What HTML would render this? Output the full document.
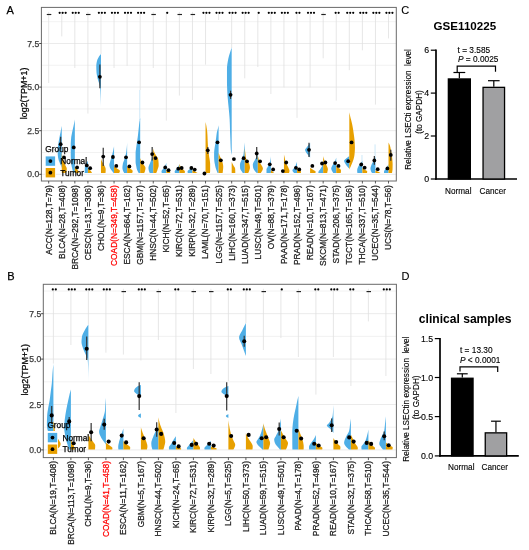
<!DOCTYPE html>
<html><head><meta charset="utf-8"><style>
html,body{margin:0;padding:0;background:#fff;}
body{width:529px;height:550px;overflow:hidden;}
svg{display:block;will-change:transform;filter:blur(0.35px);}
svg text{font-family:"Liberation Sans", sans-serif;}
</style></head><body>
<svg width="529" height="550" viewBox="0 0 529 550" font-family='&quot;Liberation Sans&quot;, sans-serif'>
<rect width="529" height="550" fill="#fff"/>
<rect x="41.40" y="7.40" width="354.90" height="173.60" fill="#fff"/>
<line x1="41.40" y1="152.50" x2="396.30" y2="152.50" stroke="#efefef" stroke-width="0.8"/>
<line x1="41.40" y1="108.90" x2="396.30" y2="108.90" stroke="#efefef" stroke-width="0.8"/>
<line x1="41.40" y1="65.30" x2="396.30" y2="65.30" stroke="#efefef" stroke-width="0.8"/>
<line x1="41.40" y1="21.70" x2="396.30" y2="21.70" stroke="#efefef" stroke-width="0.8"/>
<line x1="41.40" y1="174.30" x2="396.30" y2="174.30" stroke="#e9e9e9" stroke-width="0.9"/>
<line x1="41.40" y1="130.70" x2="396.30" y2="130.70" stroke="#e9e9e9" stroke-width="0.9"/>
<line x1="41.40" y1="87.10" x2="396.30" y2="87.10" stroke="#e9e9e9" stroke-width="0.9"/>
<line x1="41.40" y1="43.50" x2="396.30" y2="43.50" stroke="#e9e9e9" stroke-width="0.9"/>
<line x1="48.70" y1="11.90" x2="48.70" y2="83.00" stroke="#e0e0e0" stroke-width="0.8"/>
<line x1="61.77" y1="11.90" x2="61.77" y2="36.40" stroke="#e0e0e0" stroke-width="0.8"/>
<line x1="74.84" y1="11.90" x2="74.84" y2="68.00" stroke="#e0e0e0" stroke-width="0.8"/>
<line x1="87.91" y1="11.90" x2="87.91" y2="113.50" stroke="#e0e0e0" stroke-width="0.8"/>
<line x1="100.98" y1="11.90" x2="100.98" y2="54.00" stroke="#e0e0e0" stroke-width="0.8"/>
<line x1="114.05" y1="11.90" x2="114.05" y2="68.00" stroke="#e0e0e0" stroke-width="0.8"/>
<line x1="127.12" y1="11.90" x2="127.12" y2="65.80" stroke="#e0e0e0" stroke-width="0.8"/>
<line x1="140.19" y1="11.90" x2="140.19" y2="90.00" stroke="#e0e0e0" stroke-width="0.8"/>
<line x1="153.26" y1="11.90" x2="153.26" y2="68.00" stroke="#e0e0e0" stroke-width="0.8"/>
<line x1="166.33" y1="11.90" x2="166.33" y2="120.60" stroke="#e0e0e0" stroke-width="0.8"/>
<line x1="179.40" y1="11.90" x2="179.40" y2="95.50" stroke="#e0e0e0" stroke-width="0.8"/>
<line x1="192.47" y1="11.90" x2="192.47" y2="100.00" stroke="#e0e0e0" stroke-width="0.8"/>
<line x1="205.54" y1="11.90" x2="205.54" y2="64.70" stroke="#e0e0e0" stroke-width="0.8"/>
<line x1="218.61" y1="11.90" x2="218.61" y2="20.00" stroke="#e0e0e0" stroke-width="0.8"/>
<line x1="231.68" y1="11.90" x2="231.68" y2="48.00" stroke="#e0e0e0" stroke-width="0.8"/>
<line x1="244.75" y1="11.90" x2="244.75" y2="78.30" stroke="#e0e0e0" stroke-width="0.8"/>
<line x1="257.82" y1="11.90" x2="257.82" y2="67.00" stroke="#e0e0e0" stroke-width="0.8"/>
<line x1="270.89" y1="11.90" x2="270.89" y2="94.00" stroke="#e0e0e0" stroke-width="0.8"/>
<line x1="283.96" y1="11.90" x2="283.96" y2="87.40" stroke="#e0e0e0" stroke-width="0.8"/>
<line x1="297.03" y1="11.90" x2="297.03" y2="117.80" stroke="#e0e0e0" stroke-width="0.8"/>
<line x1="310.10" y1="11.90" x2="310.10" y2="87.40" stroke="#e0e0e0" stroke-width="0.8"/>
<line x1="323.17" y1="11.90" x2="323.17" y2="58.30" stroke="#e0e0e0" stroke-width="0.8"/>
<line x1="336.24" y1="11.90" x2="336.24" y2="100.60" stroke="#e0e0e0" stroke-width="0.8"/>
<line x1="349.31" y1="11.90" x2="349.31" y2="70.20" stroke="#e0e0e0" stroke-width="0.8"/>
<line x1="362.38" y1="11.90" x2="362.38" y2="50.30" stroke="#e0e0e0" stroke-width="0.8"/>
<line x1="375.45" y1="11.90" x2="375.45" y2="104.60" stroke="#e0e0e0" stroke-width="0.8"/>
<line x1="388.52" y1="11.90" x2="388.52" y2="38.40" stroke="#e0e0e0" stroke-width="0.8"/>
<line x1="139.79" y1="90.00" x2="139.79" y2="120.00" stroke="#bfe1f5" stroke-width="0.8"/>
<line x1="361.98" y1="155.00" x2="361.98" y2="161.50" stroke="#bfe1f5" stroke-width="0.8"/>
<line x1="375.05" y1="144.40" x2="375.05" y2="157.50" stroke="#bfe1f5" stroke-width="0.8"/>
<path d="M48.70,165.00 L48.70,165.00 L48.52,165.20 L48.35,165.41 L48.18,165.61 L48.01,165.81 L47.85,166.01 L47.69,166.22 L47.53,166.42 L47.38,166.62 L47.24,166.82 L47.10,167.03 L46.97,167.23 L46.85,167.43 L46.73,167.63 L46.63,167.84 L46.53,168.04 L46.44,168.24 L46.36,168.44 L46.29,168.65 L46.24,168.85 L46.19,169.05 L46.15,169.25 L46.11,169.46 L46.07,169.66 L46.03,169.86 L45.99,170.06 L45.95,170.27 L45.92,170.47 L45.89,170.67 L45.86,170.87 L45.83,171.08 L45.80,171.28 L45.78,171.48 L45.76,171.68 L45.74,171.89 L45.73,172.09 L45.72,172.29 L45.71,172.49 L45.70,172.70 L45.70,172.90 L48.70,172.90Z" fill="#4eaee6"/>
<path d="M48.70,168.00 L48.70,168.00 L48.81,168.13 L48.93,168.25 L49.03,168.38 L49.14,168.50 L49.25,168.63 L49.35,168.75 L49.45,168.88 L49.55,169.01 L49.64,169.13 L49.73,169.26 L49.82,169.38 L49.91,169.51 L49.99,169.63 L50.08,169.76 L50.15,169.88 L50.23,170.01 L50.30,170.14 L50.37,170.26 L50.43,170.39 L50.49,170.51 L50.55,170.64 L50.61,170.76 L50.66,170.89 L50.71,171.02 L50.75,171.14 L50.80,171.27 L50.84,171.39 L50.88,171.52 L50.92,171.64 L50.96,171.77 L51.00,171.89 L51.03,172.02 L51.06,172.15 L51.09,172.27 L51.12,172.40 L51.14,172.52 L51.17,172.65 L51.18,172.77 L51.20,172.90 L48.70,172.90Z" fill="#e7a000"/>
<path d="M61.77,125.90 L61.77,125.90 L61.56,126.98 L61.35,128.06 L61.14,129.14 L60.92,130.22 L60.71,131.30 L60.49,132.38 L60.27,133.46 L60.05,134.54 L59.82,135.62 L59.60,136.69 L59.39,137.77 L59.19,138.85 L58.99,139.93 L58.79,141.01 L58.61,142.09 L58.44,143.17 L58.27,144.25 L58.09,145.33 L57.91,146.41 L57.78,147.49 L57.69,148.57 L57.67,149.65 L57.68,150.73 L57.70,151.81 L57.73,152.89 L57.77,153.97 L57.83,155.05 L57.93,156.13 L58.07,157.21 L58.23,158.28 L58.46,159.36 L58.79,160.44 L59.19,161.52 L59.62,162.60 L60.05,163.68 L60.53,164.76 L61.01,165.84 L61.42,166.92 L61.77,168.00 L61.77,168.00Z" fill="#4eaee6"/>
<path d="M61.77,152.80 L61.77,152.80 L61.84,153.32 L61.93,153.83 L62.01,154.35 L62.11,154.86 L62.21,155.38 L62.32,155.89 L62.43,156.41 L62.55,156.92 L62.68,157.44 L62.81,157.95 L62.96,158.47 L63.12,158.98 L63.28,159.50 L63.44,160.02 L63.61,160.53 L63.79,161.05 L63.96,161.56 L64.15,162.08 L64.34,162.59 L64.54,163.11 L64.73,163.62 L64.94,164.14 L65.14,164.65 L65.34,165.17 L65.58,165.68 L65.84,166.20 L66.11,166.72 L66.36,167.23 L66.57,167.75 L66.71,168.26 L66.77,168.78 L66.76,169.29 L66.72,169.81 L66.66,170.32 L66.59,170.84 L66.49,171.35 L66.31,171.87 L66.06,172.38 L65.77,172.90 L61.77,172.90Z" fill="#e7a000"/>
<path d="M74.84,119.60 L74.84,119.60 L74.57,120.97 L74.30,122.33 L74.02,123.70 L73.74,125.07 L73.45,126.43 L73.13,127.80 L72.81,129.17 L72.49,130.53 L72.20,131.90 L71.93,133.27 L71.65,134.63 L71.40,136.00 L71.20,137.37 L71.08,138.73 L70.96,140.10 L70.87,141.47 L70.79,142.83 L70.75,144.20 L70.74,145.57 L70.74,146.93 L70.74,148.30 L70.74,149.67 L70.74,151.03 L70.74,152.40 L70.74,153.77 L70.74,155.13 L70.76,156.50 L70.80,157.87 L70.87,159.23 L70.96,160.60 L71.06,161.97 L71.17,163.33 L71.36,164.70 L71.62,166.07 L71.92,167.43 L72.24,168.80 L72.62,170.17 L72.96,171.53 L73.24,172.90 L74.84,172.90Z" fill="#4eaee6"/>
<path d="M74.84,166.50 L74.84,166.50 L74.98,166.66 L75.11,166.83 L75.24,166.99 L75.38,167.16 L75.51,167.32 L75.64,167.48 L75.78,167.65 L75.91,167.81 L76.04,167.98 L76.17,168.14 L76.30,168.31 L76.43,168.47 L76.56,168.63 L76.68,168.80 L76.81,168.96 L76.94,169.13 L77.08,169.29 L77.22,169.45 L77.36,169.62 L77.50,169.78 L77.64,169.95 L77.78,170.11 L77.91,170.27 L78.03,170.44 L78.14,170.60 L78.23,170.77 L78.31,170.93 L78.38,171.09 L78.44,171.26 L78.50,171.42 L78.56,171.59 L78.61,171.75 L78.67,171.92 L78.71,172.08 L78.75,172.24 L78.79,172.41 L78.81,172.57 L78.83,172.74 L78.84,172.90 L74.84,172.90Z" fill="#e7a000"/>
<path d="M87.91,161.00 L87.91,161.00 L87.65,161.31 L87.40,161.61 L87.16,161.92 L86.93,162.22 L86.72,162.53 L86.52,162.83 L86.33,163.14 L86.13,163.44 L85.93,163.75 L85.73,164.05 L85.54,164.36 L85.36,164.66 L85.21,164.97 L85.08,165.27 L84.98,165.58 L84.92,165.88 L84.90,166.19 L84.88,166.49 L84.86,166.80 L84.85,167.10 L84.83,167.41 L84.82,167.71 L84.81,168.02 L84.79,168.32 L84.78,168.63 L84.77,168.93 L84.76,169.24 L84.75,169.54 L84.75,169.85 L84.74,170.15 L84.73,170.46 L84.73,170.76 L84.72,171.07 L84.72,171.37 L84.72,171.68 L84.71,171.98 L84.71,172.29 L84.71,172.59 L84.71,172.90 L87.91,172.90Z" fill="#4eaee6"/>
<path d="M87.91,168.50 L87.91,168.50 L88.08,168.61 L88.25,168.73 L88.42,168.84 L88.58,168.95 L88.74,169.06 L88.90,169.18 L89.06,169.29 L89.21,169.40 L89.35,169.52 L89.49,169.63 L89.63,169.74 L89.76,169.85 L89.89,169.97 L90.01,170.08 L90.13,170.19 L90.24,170.31 L90.34,170.42 L90.44,170.53 L90.53,170.64 L90.62,170.76 L90.71,170.87 L90.80,170.98 L90.89,171.09 L90.98,171.21 L91.06,171.32 L91.14,171.43 L91.22,171.55 L91.30,171.66 L91.37,171.77 L91.44,171.88 L91.51,172.00 L91.58,172.11 L91.64,172.22 L91.69,172.34 L91.74,172.45 L91.79,172.56 L91.84,172.67 L91.88,172.79 L91.91,172.90 L87.91,172.90Z" fill="#e7a000"/>
<path d="M100.98,53.90 L100.98,53.90 L99.91,55.26 L99.00,56.62 L98.24,57.98 L97.55,59.35 L97.05,60.71 L96.75,62.07 L96.50,63.43 L96.33,64.79 L96.28,66.15 L96.30,67.52 L96.33,68.88 L96.39,70.24 L96.46,71.60 L96.56,72.96 L96.74,74.32 L96.99,75.68 L97.27,77.05 L97.57,78.41 L97.96,79.77 L98.40,81.13 L98.83,82.49 L99.24,83.85 L99.67,85.22 L100.03,86.58 L100.22,87.94 L100.34,89.30 L100.43,90.66 L100.50,92.02 L100.56,93.38 L100.62,94.75 L100.67,96.11 L100.73,97.47 L100.78,98.83 L100.82,100.19 L100.87,101.55 L100.90,102.92 L100.94,104.28 L100.96,105.64 L100.98,107.00 L100.98,107.00Z" fill="#4eaee6"/>
<path d="M100.98,158.00 L100.98,158.00 L101.04,158.38 L101.11,158.76 L101.20,159.15 L101.30,159.53 L101.41,159.91 L101.53,160.29 L101.66,160.67 L101.80,161.06 L101.97,161.44 L102.17,161.82 L102.41,162.20 L102.66,162.58 L102.92,162.97 L103.18,163.35 L103.43,163.73 L103.67,164.11 L103.88,164.49 L104.06,164.88 L104.24,165.26 L104.43,165.64 L104.62,166.02 L104.80,166.41 L104.98,166.79 L105.15,167.17 L105.30,167.55 L105.43,167.93 L105.54,168.32 L105.62,168.70 L105.67,169.08 L105.68,169.46 L105.68,169.84 L105.68,170.23 L105.67,170.61 L105.66,170.99 L105.64,171.37 L105.62,171.75 L105.58,172.14 L105.54,172.52 L105.48,172.90 L100.98,172.90Z" fill="#e7a000"/>
<path d="M114.05,146.30 L114.05,146.30 L113.92,146.98 L113.79,147.66 L113.65,148.35 L113.51,149.03 L113.37,149.71 L113.22,150.39 L113.06,151.07 L112.91,151.76 L112.75,152.44 L112.58,153.12 L112.41,153.80 L112.23,154.48 L112.05,155.17 L111.87,155.85 L111.68,156.53 L111.49,157.21 L111.29,157.89 L111.08,158.58 L110.86,159.26 L110.65,159.94 L110.44,160.62 L110.24,161.31 L110.05,161.99 L109.86,162.67 L109.65,163.35 L109.47,164.03 L109.36,164.72 L109.37,165.40 L109.47,166.08 L109.64,166.76 L109.86,167.44 L110.10,168.13 L110.44,168.81 L110.90,169.49 L111.42,170.17 L111.94,170.85 L112.45,171.54 L112.99,172.22 L113.55,172.90 L114.05,172.90Z" fill="#4eaee6"/>
<path d="M114.05,166.50 L114.05,166.50 L114.32,166.66 L114.59,166.83 L114.85,166.99 L115.11,167.16 L115.36,167.32 L115.61,167.48 L115.86,167.65 L116.10,167.81 L116.33,167.98 L116.56,168.14 L116.79,168.31 L117.01,168.47 L117.23,168.63 L117.47,168.80 L117.72,168.96 L117.97,169.13 L118.23,169.29 L118.48,169.45 L118.73,169.62 L118.96,169.78 L119.18,169.95 L119.37,170.11 L119.54,170.27 L119.67,170.44 L119.77,170.60 L119.83,170.77 L119.85,170.93 L119.85,171.09 L119.84,171.26 L119.83,171.42 L119.80,171.59 L119.77,171.75 L119.72,171.92 L119.66,172.08 L119.58,172.24 L119.48,172.41 L119.36,172.57 L119.22,172.74 L119.05,172.90 L114.05,172.90Z" fill="#e7a000"/>
<path d="M127.12,141.80 L127.12,141.80 L127.11,142.60 L127.08,143.39 L127.04,144.19 L126.99,144.99 L126.93,145.79 L126.87,146.58 L126.79,147.38 L126.71,148.18 L126.63,148.98 L126.54,149.77 L126.45,150.57 L126.34,151.37 L126.20,152.17 L126.05,152.96 L125.89,153.76 L125.72,154.56 L125.54,155.36 L125.33,156.15 L125.09,156.95 L124.85,157.75 L124.59,158.55 L124.33,159.34 L124.08,160.14 L123.79,160.94 L123.49,161.74 L123.20,162.53 L122.96,163.33 L122.80,164.13 L122.68,164.93 L122.57,165.72 L122.48,166.52 L122.43,167.32 L122.43,168.12 L122.53,168.91 L122.72,169.71 L122.96,170.51 L123.23,171.31 L123.63,172.10 L124.12,172.90 L127.12,172.90Z" fill="#4eaee6"/>
<path d="M127.12,166.50 L127.12,166.50 L127.40,166.66 L127.68,166.83 L127.95,166.99 L128.21,167.16 L128.47,167.32 L128.72,167.48 L128.97,167.65 L129.21,167.81 L129.44,167.98 L129.66,168.14 L129.88,168.31 L130.08,168.47 L130.29,168.63 L130.50,168.80 L130.72,168.96 L130.94,169.13 L131.16,169.29 L131.38,169.45 L131.59,169.62 L131.79,169.78 L131.97,169.95 L132.14,170.11 L132.29,170.27 L132.42,170.44 L132.51,170.60 L132.58,170.77 L132.62,170.93 L132.62,171.09 L132.62,171.26 L132.61,171.42 L132.61,171.59 L132.59,171.75 L132.56,171.92 L132.53,172.08 L132.48,172.24 L132.42,172.41 L132.34,172.57 L132.24,172.74 L132.12,172.90 L127.12,172.90Z" fill="#e7a000"/>
<path d="M140.19,118.00 L140.19,118.00 L139.87,119.41 L139.59,120.82 L139.36,122.22 L139.18,123.63 L139.03,125.04 L138.90,126.45 L138.76,127.85 L138.61,129.26 L138.46,130.67 L138.32,132.08 L138.16,133.48 L138.00,134.89 L137.83,136.30 L137.64,137.71 L137.44,139.12 L137.24,140.52 L137.04,141.93 L136.82,143.34 L136.61,144.75 L136.40,146.15 L136.21,147.56 L136.01,148.97 L135.80,150.38 L135.65,151.78 L135.59,153.19 L135.59,154.60 L135.59,156.01 L135.59,157.42 L135.59,158.82 L135.59,160.23 L135.59,161.64 L135.66,163.05 L135.89,164.45 L136.17,165.86 L136.42,167.27 L136.72,168.68 L137.16,170.08 L137.84,171.49 L138.69,172.90 L140.19,172.90Z" fill="#4eaee6"/>
<path d="M140.19,158.10 L140.19,158.10 L140.32,158.48 L140.46,158.86 L140.60,159.24 L140.76,159.62 L140.92,160.00 L141.09,160.38 L141.27,160.76 L141.46,161.14 L141.66,161.52 L141.88,161.89 L142.11,162.27 L142.35,162.65 L142.59,163.03 L142.83,163.41 L143.07,163.79 L143.29,164.17 L143.55,164.55 L143.83,164.93 L144.12,165.31 L144.41,165.69 L144.68,166.07 L144.94,166.45 L145.16,166.83 L145.33,167.21 L145.44,167.59 L145.49,167.97 L145.48,168.35 L145.45,168.73 L145.40,169.11 L145.34,169.48 L145.26,169.86 L145.17,170.24 L145.08,170.62 L144.99,171.00 L144.88,171.38 L144.74,171.76 L144.57,172.14 L144.38,172.52 L144.19,172.90 L140.19,172.90Z" fill="#e7a000"/>
<path d="M153.26,155.70 L153.26,155.70 L153.03,156.14 L152.81,156.58 L152.59,157.02 L152.37,157.46 L152.16,157.91 L151.95,158.35 L151.75,158.79 L151.56,159.23 L151.37,159.67 L151.18,160.11 L151.00,160.55 L150.82,160.99 L150.65,161.43 L150.48,161.87 L150.31,162.32 L150.15,162.76 L149.99,163.20 L149.81,163.64 L149.63,164.08 L149.44,164.52 L149.26,164.96 L149.08,165.40 L148.91,165.84 L148.76,166.28 L148.63,166.73 L148.54,167.17 L148.48,167.61 L148.46,168.05 L148.48,168.49 L148.53,168.93 L148.59,169.37 L148.68,169.81 L148.78,170.25 L148.88,170.69 L149.00,171.14 L149.14,171.58 L149.33,172.02 L149.53,172.46 L149.76,172.90 L153.26,172.90Z" fill="#4eaee6"/>
<path d="M153.26,148.30 L153.26,148.30 L153.37,148.93 L153.51,149.56 L153.67,150.19 L153.86,150.82 L154.07,151.45 L154.29,152.08 L154.55,152.72 L154.86,153.35 L155.20,153.98 L155.55,154.61 L155.89,155.24 L156.29,155.87 L156.74,156.50 L157.19,157.13 L157.60,157.76 L157.95,158.39 L158.19,159.02 L158.29,159.65 L158.36,160.28 L158.42,160.92 L158.48,161.55 L158.53,162.18 L158.57,162.81 L158.61,163.44 L158.63,164.07 L158.65,164.70 L158.66,165.33 L158.64,165.96 L158.54,166.59 L158.37,167.22 L158.16,167.85 L157.93,168.48 L157.72,169.12 L157.52,169.75 L157.29,170.38 L157.05,171.01 L156.80,171.64 L156.54,172.27 L156.26,172.90 L153.26,172.90Z" fill="#e7a000"/>
<path d="M166.33,162.70 L166.33,162.70 L166.26,162.96 L166.18,163.22 L166.10,163.48 L166.02,163.75 L165.92,164.01 L165.83,164.27 L165.72,164.53 L165.62,164.79 L165.51,165.05 L165.39,165.32 L165.26,165.58 L165.12,165.84 L164.98,166.10 L164.83,166.36 L164.68,166.62 L164.52,166.88 L164.36,167.15 L164.20,167.41 L164.03,167.67 L163.87,167.93 L163.70,168.19 L163.51,168.45 L163.29,168.72 L163.06,168.98 L162.83,169.24 L162.59,169.50 L162.37,169.76 L162.15,170.02 L161.96,170.28 L161.79,170.55 L161.66,170.81 L161.57,171.07 L161.53,171.33 L161.53,171.59 L161.55,171.85 L161.59,172.12 L161.64,172.38 L161.72,172.64 L161.83,172.90 L166.33,172.90Z" fill="#4eaee6"/>
<path d="M166.33,169.50 L166.33,169.50 L166.49,169.59 L166.65,169.67 L166.81,169.76 L166.96,169.85 L167.12,169.94 L167.27,170.02 L167.41,170.11 L167.56,170.20 L167.70,170.28 L167.83,170.37 L167.97,170.46 L168.10,170.55 L168.23,170.63 L168.35,170.72 L168.48,170.81 L168.60,170.89 L168.71,170.98 L168.82,171.07 L168.93,171.16 L169.04,171.24 L169.14,171.33 L169.24,171.42 L169.34,171.51 L169.43,171.59 L169.52,171.68 L169.61,171.77 L169.69,171.85 L169.78,171.94 L169.86,172.03 L169.94,172.12 L170.02,172.20 L170.09,172.29 L170.16,172.38 L170.23,172.46 L170.30,172.55 L170.36,172.64 L170.42,172.73 L170.48,172.81 L170.53,172.90 L166.33,172.90Z" fill="#e7a000"/>
<path d="M179.40,164.20 L179.40,164.20 L179.32,164.42 L179.23,164.65 L179.14,164.87 L179.05,165.09 L178.94,165.32 L178.84,165.54 L178.72,165.76 L178.61,165.98 L178.49,166.21 L178.35,166.43 L178.21,166.65 L178.07,166.88 L177.91,167.10 L177.76,167.32 L177.60,167.55 L177.43,167.77 L177.27,167.99 L177.11,168.22 L176.94,168.44 L176.78,168.66 L176.59,168.88 L176.38,169.11 L176.16,169.33 L175.93,169.55 L175.71,169.78 L175.49,170.00 L175.29,170.22 L175.11,170.45 L174.95,170.67 L174.83,170.89 L174.74,171.12 L174.70,171.34 L174.70,171.56 L174.70,171.78 L174.71,172.01 L174.73,172.23 L174.77,172.45 L174.82,172.68 L174.90,172.90 L179.40,172.90Z" fill="#4eaee6"/>
<path d="M179.40,163.40 L179.40,163.40 L179.43,163.64 L179.48,163.89 L179.54,164.13 L179.60,164.37 L179.67,164.62 L179.75,164.86 L179.84,165.11 L179.93,165.35 L180.03,165.59 L180.13,165.84 L180.23,166.08 L180.35,166.32 L180.49,166.57 L180.63,166.81 L180.79,167.05 L180.96,167.30 L181.14,167.54 L181.33,167.78 L181.52,168.03 L181.71,168.27 L181.91,168.52 L182.14,168.76 L182.42,169.00 L182.73,169.25 L183.06,169.49 L183.40,169.73 L183.73,169.98 L184.05,170.22 L184.33,170.46 L184.57,170.71 L184.75,170.95 L184.87,171.19 L184.90,171.44 L184.90,171.68 L184.89,171.93 L184.87,172.17 L184.84,172.41 L184.78,172.66 L184.70,172.90 L179.40,172.90Z" fill="#e7a000"/>
<path d="M192.47,166.50 L192.47,166.50 L192.33,166.66 L192.19,166.83 L192.05,166.99 L191.91,167.16 L191.77,167.32 L191.62,167.48 L191.47,167.65 L191.32,167.81 L191.17,167.98 L191.01,168.14 L190.86,168.31 L190.70,168.47 L190.53,168.63 L190.35,168.80 L190.14,168.96 L189.93,169.13 L189.70,169.29 L189.47,169.45 L189.23,169.62 L189.00,169.78 L188.77,169.95 L188.55,170.11 L188.35,170.27 L188.16,170.44 L187.99,170.60 L187.84,170.77 L187.73,170.93 L187.64,171.09 L187.58,171.26 L187.57,171.42 L187.57,171.59 L187.57,171.75 L187.58,171.92 L187.59,172.08 L187.61,172.24 L187.63,172.41 L187.67,172.57 L187.71,172.74 L187.77,172.90 L192.47,172.90Z" fill="#4eaee6"/>
<path d="M192.47,170.20 L192.47,170.20 L192.61,170.27 L192.75,170.34 L192.89,170.41 L193.02,170.48 L193.16,170.55 L193.30,170.62 L193.43,170.68 L193.57,170.75 L193.70,170.82 L193.84,170.89 L193.97,170.96 L194.10,171.03 L194.23,171.10 L194.36,171.17 L194.49,171.24 L194.62,171.31 L194.75,171.38 L194.87,171.45 L195.00,171.52 L195.12,171.58 L195.25,171.65 L195.37,171.72 L195.49,171.79 L195.62,171.86 L195.74,171.93 L195.86,172.00 L195.98,172.07 L196.10,172.14 L196.22,172.21 L196.34,172.28 L196.46,172.35 L196.57,172.42 L196.69,172.48 L196.80,172.55 L196.92,172.62 L197.03,172.69 L197.15,172.76 L197.26,172.83 L197.37,172.90 L192.47,172.90Z" fill="#e7a000"/>
<path d="M205.54,172.00 L205.54,172.00 L205.51,172.02 L205.49,172.05 L205.47,172.07 L205.44,172.09 L205.42,172.12 L205.40,172.14 L205.37,172.16 L205.35,172.18 L205.33,172.21 L205.31,172.23 L205.29,172.25 L205.27,172.28 L205.25,172.30 L205.24,172.32 L205.22,172.35 L205.21,172.37 L205.19,172.39 L205.18,172.42 L205.17,172.44 L205.16,172.46 L205.15,172.48 L205.14,172.51 L205.13,172.53 L205.12,172.55 L205.11,172.58 L205.10,172.60 L205.10,172.62 L205.09,172.65 L205.08,172.67 L205.07,172.69 L205.07,172.72 L205.06,172.74 L205.06,172.76 L205.05,172.78 L205.05,172.81 L205.04,172.83 L205.04,172.85 L205.04,172.88 L205.04,172.90 L205.54,172.90Z" fill="#4eaee6"/>
<path d="M205.54,121.90 L205.54,121.90 L205.83,123.21 L206.10,124.52 L206.34,125.82 L206.56,127.13 L206.77,128.44 L206.96,129.75 L207.13,131.05 L207.25,132.36 L207.34,133.67 L207.42,134.98 L207.49,136.28 L207.54,137.59 L207.60,138.90 L207.65,140.21 L207.71,141.52 L207.78,142.82 L207.87,144.13 L207.97,145.44 L208.08,146.75 L208.20,148.05 L208.32,149.36 L208.46,150.67 L208.60,151.98 L208.74,153.28 L208.88,154.59 L209.04,155.90 L209.24,157.21 L209.46,158.52 L209.69,159.82 L209.89,161.13 L210.05,162.44 L210.13,163.75 L210.14,165.05 L210.14,166.36 L210.14,167.67 L210.14,168.98 L210.14,170.28 L210.12,171.59 L209.94,172.90 L205.54,172.90Z" fill="#e7a000"/>
<path d="M218.61,125.30 L218.61,125.30 L218.35,126.52 L218.07,127.74 L217.76,128.96 L217.41,130.18 L217.08,131.40 L216.84,132.62 L216.65,133.84 L216.48,135.06 L216.33,136.28 L216.18,137.51 L216.01,138.73 L215.84,139.95 L215.67,141.17 L215.50,142.39 L215.32,143.61 L215.13,144.83 L214.91,146.05 L214.71,147.27 L214.55,148.49 L214.37,149.71 L214.22,150.93 L214.13,152.15 L214.11,153.37 L214.11,154.59 L214.11,155.81 L214.11,157.03 L214.14,158.25 L214.21,159.47 L214.30,160.69 L214.44,161.92 L214.65,163.14 L214.87,164.36 L215.11,165.58 L215.38,166.80 L215.70,168.02 L216.12,169.24 L216.59,170.46 L217.08,171.68 L217.61,172.90 L218.61,172.90Z" fill="#4eaee6"/>
<path d="M218.61,152.80 L218.61,152.80 L218.79,153.32 L218.97,153.83 L219.16,154.35 L219.36,154.86 L219.56,155.38 L219.77,155.89 L219.99,156.41 L220.23,156.92 L220.49,157.44 L220.75,157.95 L221.02,158.47 L221.28,158.98 L221.52,159.50 L221.74,160.02 L221.93,160.53 L222.08,161.05 L222.23,161.56 L222.38,162.08 L222.53,162.59 L222.67,163.11 L222.80,163.62 L222.92,164.14 L223.02,164.65 L223.10,165.17 L223.16,165.68 L223.20,166.20 L223.21,166.72 L223.20,167.23 L223.18,167.75 L223.15,168.26 L223.11,168.78 L223.07,169.29 L223.03,169.81 L222.98,170.32 L222.92,170.84 L222.86,171.35 L222.78,171.87 L222.70,172.38 L222.61,172.90 L218.61,172.90Z" fill="#e7a000"/>
<path d="M231.68,47.40 L231.68,47.40 L230.77,50.16 L229.89,52.92 L229.03,55.68 L228.35,58.45 L227.81,61.21 L227.37,63.97 L227.03,66.73 L226.98,69.49 L226.98,72.25 L226.98,75.02 L226.98,77.78 L226.98,80.54 L226.99,83.30 L227.05,86.06 L227.16,88.82 L227.29,91.58 L227.44,94.35 L227.62,97.11 L227.87,99.87 L228.14,102.63 L228.42,105.39 L228.70,108.15 L228.98,110.92 L229.22,113.68 L229.45,116.44 L229.64,119.20 L229.76,121.96 L229.86,124.72 L229.94,127.48 L230.02,130.25 L230.12,133.01 L230.23,135.77 L230.34,138.53 L230.45,141.29 L230.55,144.05 L230.65,146.82 L230.79,149.58 L231.14,152.34 L231.68,155.10 L231.68,155.10Z" fill="#4eaee6"/>
<path d="M231.68,162.00 L231.68,162.00 L231.82,162.28 L231.96,162.56 L232.10,162.84 L232.24,163.12 L232.38,163.40 L232.52,163.68 L232.66,163.96 L232.80,164.24 L232.94,164.52 L233.08,164.79 L233.22,165.07 L233.37,165.35 L233.53,165.63 L233.71,165.91 L233.89,166.19 L234.07,166.47 L234.25,166.75 L234.42,167.03 L234.59,167.31 L234.74,167.59 L234.88,167.87 L234.99,168.15 L235.08,168.43 L235.15,168.71 L235.18,168.99 L235.19,169.27 L235.20,169.55 L235.22,169.83 L235.23,170.11 L235.24,170.38 L235.25,170.66 L235.25,170.94 L235.26,171.22 L235.27,171.50 L235.27,171.78 L235.27,172.06 L235.28,172.34 L235.28,172.62 L235.28,172.90 L231.68,172.90Z" fill="#e7a000"/>
<path d="M244.75,142.40 L244.75,142.40 L244.67,143.18 L244.58,143.96 L244.50,144.75 L244.42,145.53 L244.33,146.31 L244.25,147.09 L244.16,147.87 L244.08,148.66 L244.01,149.44 L243.95,150.22 L243.88,151.00 L243.81,151.78 L243.73,152.57 L243.63,153.35 L243.51,154.13 L243.35,154.91 L243.08,155.69 L242.75,156.48 L242.46,157.26 L242.16,158.04 L241.87,158.82 L241.59,159.61 L241.31,160.39 L240.99,161.17 L240.66,161.95 L240.35,162.73 L240.11,163.52 L239.97,164.30 L239.95,165.08 L239.97,165.86 L240.00,166.64 L240.05,167.43 L240.11,168.21 L240.24,168.99 L240.63,169.77 L241.16,170.55 L241.66,171.34 L242.18,172.12 L242.75,172.90 L244.75,172.90Z" fill="#4eaee6"/>
<path d="M244.75,148.30 L244.75,148.30 L244.83,148.93 L244.91,149.56 L244.99,150.19 L245.07,150.82 L245.15,151.45 L245.23,152.08 L245.31,152.72 L245.39,153.35 L245.46,153.98 L245.52,154.61 L245.59,155.24 L245.65,155.87 L245.72,156.50 L245.81,157.13 L245.92,157.76 L246.05,158.39 L246.28,159.02 L246.65,159.65 L247.09,160.28 L247.50,160.92 L247.89,161.55 L248.32,162.18 L248.74,162.81 L249.08,163.44 L249.30,164.07 L249.47,164.70 L249.63,165.33 L249.76,165.96 L249.86,166.59 L249.93,167.22 L249.95,167.85 L249.88,168.48 L249.72,169.12 L249.51,169.75 L249.29,170.38 L249.07,171.01 L248.83,171.64 L248.55,172.27 L248.25,172.90 L244.75,172.90Z" fill="#e7a000"/>
<path d="M257.82,154.50 L257.82,154.50 L257.58,154.97 L257.34,155.44 L257.10,155.92 L256.85,156.39 L256.60,156.86 L256.34,157.33 L256.06,157.80 L255.78,158.27 L255.51,158.75 L255.23,159.22 L254.98,159.69 L254.74,160.16 L254.49,160.63 L254.22,161.11 L253.95,161.58 L253.69,162.05 L253.45,162.52 L253.23,162.99 L253.04,163.46 L252.91,163.94 L252.83,164.41 L252.82,164.88 L252.84,165.35 L252.88,165.82 L252.93,166.29 L252.99,166.77 L253.06,167.24 L253.17,167.71 L253.32,168.18 L253.50,168.65 L253.70,169.13 L253.92,169.60 L254.20,170.07 L254.53,170.54 L254.91,171.01 L255.31,171.48 L255.75,171.96 L256.26,172.43 L256.82,172.90 L257.82,172.90Z" fill="#4eaee6"/>
<path d="M257.82,155.30 L257.82,155.30 L257.91,155.75 L258.01,156.20 L258.10,156.65 L258.21,157.11 L258.31,157.56 L258.42,158.01 L258.53,158.46 L258.64,158.91 L258.75,159.36 L258.87,159.81 L258.99,160.26 L259.13,160.72 L259.27,161.17 L259.43,161.62 L259.61,162.07 L259.82,162.52 L260.05,162.97 L260.30,163.42 L260.55,163.87 L260.82,164.33 L261.13,164.78 L261.46,165.23 L261.77,165.68 L262.04,166.13 L262.25,166.58 L262.47,167.03 L262.66,167.48 L262.82,167.94 L262.91,168.39 L262.91,168.84 L262.81,169.29 L262.64,169.74 L262.43,170.19 L262.20,170.64 L261.97,171.09 L261.73,171.55 L261.45,172.00 L261.15,172.45 L260.82,172.90 L257.82,172.90Z" fill="#e7a000"/>
<path d="M270.89,156.10 L270.89,156.10 L270.87,156.53 L270.83,156.96 L270.79,157.39 L270.74,157.82 L270.68,158.25 L270.61,158.68 L270.54,159.12 L270.47,159.55 L270.39,159.98 L270.31,160.41 L270.21,160.84 L270.10,161.27 L269.98,161.70 L269.84,162.13 L269.70,162.56 L269.55,162.99 L269.39,163.42 L269.23,163.85 L269.06,164.28 L268.88,164.72 L268.69,165.15 L268.47,165.58 L268.23,166.01 L267.99,166.44 L267.76,166.87 L267.52,167.30 L267.24,167.73 L266.96,168.16 L266.71,168.59 L266.54,169.02 L266.49,169.45 L266.49,169.88 L266.49,170.32 L266.49,170.75 L266.49,171.18 L266.49,171.61 L266.49,172.04 L266.49,172.47 L266.49,172.90 L270.89,172.90Z" fill="#4eaee6"/>
<path d="M270.89,170.50 L270.89,170.50 L271.00,170.56 L271.12,170.62 L271.23,170.68 L271.34,170.75 L271.45,170.81 L271.55,170.87 L271.66,170.93 L271.76,170.99 L271.86,171.05 L271.96,171.12 L272.05,171.18 L272.15,171.24 L272.24,171.30 L272.33,171.36 L272.41,171.42 L272.50,171.48 L272.58,171.55 L272.66,171.61 L272.74,171.67 L272.81,171.73 L272.88,171.79 L272.95,171.85 L273.02,171.92 L273.09,171.98 L273.15,172.04 L273.22,172.10 L273.28,172.16 L273.34,172.22 L273.40,172.28 L273.46,172.35 L273.51,172.41 L273.57,172.47 L273.62,172.53 L273.67,172.59 L273.72,172.65 L273.76,172.72 L273.81,172.78 L273.85,172.84 L273.89,172.90 L270.89,172.90Z" fill="#e7a000"/>
<path d="M283.96,171.00 L283.96,171.00 L283.92,171.05 L283.88,171.10 L283.85,171.15 L283.81,171.19 L283.77,171.24 L283.74,171.29 L283.70,171.34 L283.67,171.39 L283.64,171.44 L283.61,171.49 L283.58,171.54 L283.55,171.58 L283.52,171.63 L283.50,171.68 L283.47,171.73 L283.45,171.78 L283.43,171.83 L283.40,171.88 L283.39,171.93 L283.37,171.97 L283.35,172.02 L283.34,172.07 L283.32,172.12 L283.31,172.17 L283.29,172.22 L283.28,172.27 L283.26,172.32 L283.25,172.36 L283.24,172.41 L283.23,172.46 L283.21,172.51 L283.20,172.56 L283.19,172.61 L283.19,172.66 L283.18,172.71 L283.17,172.75 L283.17,172.80 L283.16,172.85 L283.16,172.90 L283.96,172.90Z" fill="#4eaee6"/>
<path d="M283.96,154.50 L283.96,154.50 L284.07,154.97 L284.18,155.44 L284.29,155.92 L284.40,156.39 L284.51,156.86 L284.61,157.33 L284.72,157.80 L284.82,158.27 L284.91,158.75 L285.00,159.22 L285.08,159.69 L285.17,160.16 L285.26,160.63 L285.36,161.11 L285.46,161.58 L285.59,162.05 L285.73,162.52 L285.92,162.99 L286.15,163.46 L286.39,163.94 L286.65,164.41 L286.90,164.88 L287.15,165.35 L287.41,165.82 L287.69,166.29 L287.95,166.77 L288.20,167.24 L288.42,167.71 L288.62,168.18 L288.83,168.65 L289.03,169.13 L289.21,169.60 L289.35,170.07 L289.44,170.54 L289.46,171.01 L289.41,171.48 L289.31,171.96 L289.16,172.43 L288.96,172.90 L283.96,172.90Z" fill="#e7a000"/>
<path d="M297.03,161.60 L297.03,161.60 L296.95,161.89 L296.86,162.18 L296.78,162.47 L296.68,162.76 L296.58,163.05 L296.48,163.34 L296.37,163.63 L296.26,163.92 L296.15,164.21 L296.03,164.50 L295.90,164.79 L295.78,165.08 L295.64,165.37 L295.51,165.66 L295.37,165.95 L295.22,166.24 L295.07,166.53 L294.91,166.82 L294.75,167.11 L294.58,167.39 L294.40,167.68 L294.21,167.97 L293.96,168.26 L293.66,168.55 L293.36,168.84 L293.06,169.13 L292.79,169.42 L292.58,169.71 L292.46,170.00 L292.43,170.29 L292.48,170.58 L292.57,170.87 L292.69,171.16 L292.84,171.45 L293.00,171.74 L293.18,172.03 L293.42,172.32 L293.71,172.61 L294.03,172.90 L297.03,172.90Z" fill="#4eaee6"/>
<path d="M297.03,167.80 L297.03,167.80 L297.13,167.93 L297.23,168.06 L297.33,168.19 L297.44,168.32 L297.55,168.45 L297.66,168.58 L297.78,168.72 L297.90,168.85 L298.02,168.98 L298.14,169.11 L298.27,169.24 L298.40,169.37 L298.53,169.50 L298.68,169.63 L298.84,169.76 L299.03,169.89 L299.23,170.02 L299.43,170.15 L299.64,170.28 L299.85,170.42 L300.05,170.55 L300.25,170.68 L300.43,170.81 L300.58,170.94 L300.72,171.07 L300.82,171.20 L300.89,171.33 L300.93,171.46 L300.93,171.59 L300.93,171.72 L300.93,171.85 L300.93,171.98 L300.93,172.12 L300.93,172.25 L300.93,172.38 L300.93,172.51 L300.93,172.64 L300.93,172.77 L300.93,172.90 L297.03,172.90Z" fill="#e7a000"/>
<path d="M310.10,142.80 L310.10,142.80 L309.86,143.18 L309.61,143.56 L309.35,143.95 L309.08,144.33 L308.81,144.71 L308.53,145.09 L308.23,145.47 L307.92,145.86 L307.60,146.24 L307.29,146.62 L306.98,147.00 L306.68,147.38 L306.39,147.77 L306.07,148.15 L305.74,148.53 L305.45,148.91 L305.22,149.29 L305.11,149.68 L305.11,150.06 L305.18,150.44 L305.30,150.82 L305.45,151.21 L305.63,151.59 L305.82,151.97 L306.02,152.35 L306.23,152.73 L306.49,153.12 L306.80,153.50 L307.13,153.88 L307.48,154.26 L307.81,154.64 L308.12,155.03 L308.41,155.41 L308.70,155.79 L308.99,156.17 L309.27,156.55 L309.55,156.94 L309.83,157.32 L310.10,157.70 L310.10,157.70Z" fill="#4eaee6"/>
<path d="M310.10,167.80 L310.10,167.80 L310.30,167.93 L310.50,168.06 L310.69,168.19 L310.89,168.32 L311.08,168.45 L311.27,168.58 L311.47,168.72 L311.66,168.85 L311.85,168.98 L312.04,169.11 L312.23,169.24 L312.41,169.37 L312.60,169.50 L312.79,169.63 L313.00,169.76 L313.23,169.89 L313.46,170.02 L313.70,170.15 L313.93,170.28 L314.17,170.42 L314.40,170.55 L314.62,170.68 L314.82,170.81 L315.01,170.94 L315.18,171.07 L315.33,171.20 L315.45,171.33 L315.53,171.46 L315.59,171.59 L315.60,171.72 L315.60,171.85 L315.60,171.98 L315.59,172.12 L315.58,172.25 L315.56,172.38 L315.54,172.51 L315.50,172.64 L315.46,172.77 L315.40,172.90 L310.10,172.90Z" fill="#e7a000"/>
<path d="M323.17,163.90 L323.17,163.90 L323.07,164.13 L322.97,164.36 L322.86,164.59 L322.76,164.82 L322.65,165.05 L322.53,165.28 L322.42,165.52 L322.30,165.75 L322.18,165.98 L322.06,166.21 L321.93,166.44 L321.80,166.67 L321.66,166.90 L321.52,167.13 L321.38,167.36 L321.24,167.59 L321.10,167.82 L320.95,168.05 L320.81,168.28 L320.67,168.52 L320.52,168.75 L320.38,168.98 L320.24,169.21 L320.07,169.44 L319.90,169.67 L319.72,169.90 L319.53,170.13 L319.35,170.36 L319.17,170.59 L318.99,170.82 L318.83,171.05 L318.69,171.28 L318.57,171.52 L318.47,171.75 L318.41,171.98 L318.37,172.21 L318.37,172.44 L318.37,172.67 L318.37,172.90 L323.17,172.90Z" fill="#4eaee6"/>
<path d="M323.17,156.10 L323.17,156.10 L323.27,156.53 L323.37,156.96 L323.49,157.39 L323.61,157.82 L323.73,158.25 L323.87,158.68 L324.01,159.12 L324.16,159.55 L324.33,159.98 L324.50,160.41 L324.68,160.84 L324.87,161.27 L325.05,161.70 L325.22,162.13 L325.40,162.56 L325.58,162.99 L325.76,163.42 L325.94,163.85 L326.11,164.28 L326.28,164.72 L326.45,165.15 L326.63,165.58 L326.83,166.01 L327.02,166.44 L327.21,166.87 L327.39,167.30 L327.55,167.73 L327.69,168.16 L327.79,168.59 L327.85,169.02 L327.87,169.45 L327.83,169.88 L327.75,170.32 L327.65,170.75 L327.54,171.18 L327.45,171.61 L327.36,172.04 L327.27,172.47 L327.17,172.90 L323.17,172.90Z" fill="#e7a000"/>
<path d="M336.24,157.70 L336.24,157.70 L336.12,158.09 L336.00,158.48 L335.87,158.87 L335.73,159.26 L335.58,159.65 L335.42,160.04 L335.26,160.43 L335.09,160.82 L334.91,161.21 L334.71,161.60 L334.51,161.99 L334.31,162.38 L334.08,162.77 L333.83,163.16 L333.57,163.55 L333.30,163.94 L333.05,164.33 L332.83,164.72 L332.63,165.11 L332.41,165.49 L332.19,165.88 L331.98,166.27 L331.78,166.66 L331.61,167.05 L331.46,167.44 L331.34,167.83 L331.27,168.22 L331.24,168.61 L331.28,169.00 L331.37,169.39 L331.50,169.78 L331.66,170.17 L331.84,170.56 L332.02,170.95 L332.21,171.34 L332.43,171.73 L332.68,172.12 L332.95,172.51 L333.24,172.90 L336.24,172.90Z" fill="#4eaee6"/>
<path d="M336.24,165.50 L336.24,165.50 L336.40,165.69 L336.56,165.88 L336.72,166.07 L336.89,166.26 L337.06,166.45 L337.23,166.64 L337.40,166.83 L337.58,167.02 L337.76,167.21 L337.94,167.40 L338.13,167.59 L338.34,167.78 L338.58,167.97 L338.84,168.16 L339.10,168.35 L339.38,168.54 L339.65,168.73 L339.91,168.92 L340.15,169.11 L340.38,169.29 L340.57,169.48 L340.73,169.67 L340.85,169.86 L340.92,170.05 L340.94,170.24 L340.94,170.43 L340.94,170.62 L340.94,170.81 L340.93,171.00 L340.93,171.19 L340.92,171.38 L340.91,171.57 L340.90,171.76 L340.89,171.95 L340.87,172.14 L340.84,172.33 L340.81,172.52 L340.78,172.71 L340.74,172.90 L336.24,172.90Z" fill="#e7a000"/>
<path d="M349.31,156.10 L349.31,156.10 L348.85,156.42 L348.40,156.74 L347.97,157.06 L347.55,157.38 L347.16,157.70 L346.78,158.02 L346.40,158.34 L345.99,158.66 L345.58,158.98 L345.18,159.31 L344.82,159.63 L344.51,159.95 L344.27,160.27 L344.14,160.59 L344.11,160.91 L344.15,161.23 L344.23,161.55 L344.34,161.87 L344.49,162.19 L344.65,162.51 L344.83,162.83 L345.01,163.15 L345.21,163.47 L345.39,163.79 L345.57,164.11 L345.77,164.43 L345.97,164.75 L346.20,165.07 L346.43,165.39 L346.68,165.72 L346.93,166.04 L347.19,166.36 L347.46,166.68 L347.74,167.00 L348.03,167.32 L348.33,167.64 L348.65,167.96 L348.97,168.28 L349.31,168.60 L349.31,168.60Z" fill="#4eaee6"/>
<path d="M349.31,112.30 L349.31,112.30 L349.64,113.76 L349.97,115.23 L350.30,116.69 L350.65,118.16 L351.01,119.62 L351.39,121.08 L351.76,122.55 L352.10,124.01 L352.40,125.48 L352.67,126.94 L352.92,128.41 L353.15,129.87 L353.37,131.33 L353.58,132.80 L353.80,134.26 L354.01,135.73 L354.21,137.19 L354.39,138.65 L354.52,140.12 L354.62,141.58 L354.72,143.05 L354.81,144.51 L354.87,145.97 L354.91,147.44 L354.90,148.90 L354.84,150.37 L354.75,151.83 L354.62,153.29 L354.48,154.76 L354.26,156.22 L353.93,157.69 L353.55,159.15 L353.12,160.62 L352.57,162.08 L351.95,163.54 L351.31,165.01 L350.67,166.47 L350.00,167.94 L349.31,169.40 L349.31,169.40Z" fill="#e7a000"/>
<path d="M362.38,160.80 L362.38,160.80 L362.18,161.11 L361.97,161.42 L361.76,161.73 L361.55,162.04 L361.34,162.35 L361.12,162.66 L360.90,162.97 L360.67,163.28 L360.42,163.59 L360.16,163.90 L359.89,164.21 L359.63,164.52 L359.36,164.83 L359.11,165.14 L358.88,165.45 L358.67,165.76 L358.49,166.07 L358.34,166.38 L358.20,166.69 L358.07,167.01 L357.93,167.32 L357.80,167.63 L357.68,167.94 L357.57,168.25 L357.46,168.56 L357.37,168.87 L357.30,169.18 L357.24,169.49 L357.20,169.80 L357.18,170.11 L357.18,170.42 L357.18,170.73 L357.19,171.04 L357.20,171.35 L357.21,171.66 L357.24,171.97 L357.27,172.28 L357.32,172.59 L357.38,172.90 L362.38,172.90Z" fill="#4eaee6"/>
<path d="M362.38,167.80 L362.38,167.80 L362.51,167.93 L362.65,168.06 L362.79,168.19 L362.93,168.32 L363.08,168.45 L363.23,168.58 L363.38,168.72 L363.54,168.85 L363.70,168.98 L363.87,169.11 L364.04,169.24 L364.21,169.37 L364.38,169.50 L364.57,169.63 L364.80,169.76 L365.04,169.89 L365.30,170.02 L365.57,170.15 L365.85,170.28 L366.11,170.42 L366.36,170.55 L366.59,170.68 L366.80,170.81 L366.96,170.94 L367.09,171.07 L367.16,171.20 L367.18,171.33 L367.18,171.46 L367.18,171.59 L367.18,171.72 L367.17,171.85 L367.16,171.98 L367.15,172.12 L367.14,172.25 L367.12,172.38 L367.09,172.51 L367.06,172.64 L367.03,172.77 L366.98,172.90 L362.38,172.90Z" fill="#e7a000"/>
<path d="M375.45,156.90 L375.45,156.90 L375.26,157.31 L375.07,157.72 L374.87,158.13 L374.67,158.54 L374.47,158.95 L374.27,159.36 L374.07,159.77 L373.86,160.18 L373.66,160.59 L373.45,161.00 L373.23,161.41 L373.01,161.82 L372.78,162.23 L372.55,162.64 L372.32,163.05 L372.11,163.46 L371.90,163.87 L371.72,164.28 L371.55,164.69 L371.40,165.11 L371.24,165.52 L371.08,165.93 L370.93,166.34 L370.79,166.75 L370.67,167.16 L370.57,167.57 L370.49,167.98 L370.46,168.39 L370.46,168.80 L370.50,169.21 L370.57,169.62 L370.67,170.03 L370.78,170.44 L370.90,170.85 L371.04,171.26 L371.22,171.67 L371.44,172.08 L371.68,172.49 L371.95,172.90 L375.45,172.90Z" fill="#4eaee6"/>
<path d="M375.45,170.50 L375.45,170.50 L375.61,170.56 L375.77,170.62 L375.93,170.68 L376.09,170.75 L376.25,170.81 L376.40,170.87 L376.55,170.93 L376.70,170.99 L376.85,171.05 L376.99,171.12 L377.14,171.18 L377.28,171.24 L377.42,171.30 L377.55,171.36 L377.68,171.42 L377.82,171.48 L377.94,171.55 L378.07,171.61 L378.20,171.67 L378.32,171.73 L378.44,171.79 L378.55,171.85 L378.67,171.92 L378.78,171.98 L378.89,172.04 L379.00,172.10 L379.11,172.16 L379.22,172.22 L379.32,172.28 L379.42,172.35 L379.52,172.41 L379.62,172.47 L379.72,172.53 L379.81,172.59 L379.90,172.65 L379.99,172.72 L380.08,172.78 L380.17,172.84 L380.25,172.90 L375.45,172.90Z" fill="#e7a000"/>
<path d="M388.52,163.90 L388.52,163.90 L388.43,164.13 L388.33,164.36 L388.23,164.59 L388.12,164.82 L388.02,165.05 L387.90,165.28 L387.78,165.52 L387.66,165.75 L387.53,165.98 L387.40,166.21 L387.25,166.44 L387.10,166.67 L386.93,166.90 L386.76,167.13 L386.58,167.36 L386.41,167.59 L386.23,167.82 L386.05,168.05 L385.87,168.28 L385.70,168.52 L385.54,168.75 L385.38,168.98 L385.23,169.21 L385.10,169.44 L384.96,169.67 L384.81,169.90 L384.67,170.13 L384.52,170.36 L384.38,170.59 L384.26,170.82 L384.16,171.05 L384.08,171.28 L384.03,171.52 L384.02,171.75 L384.02,171.98 L384.02,172.21 L384.02,172.44 L384.02,172.67 L384.02,172.90 L388.52,172.90Z" fill="#4eaee6"/>
<path d="M388.52,142.40 L388.52,142.40 L388.90,143.18 L389.26,143.96 L389.59,144.75 L389.87,145.53 L390.11,146.31 L390.31,147.09 L390.49,147.87 L390.65,148.66 L390.81,149.44 L390.95,150.22 L391.09,151.00 L391.24,151.78 L391.38,152.57 L391.52,153.35 L391.65,154.13 L391.78,154.91 L391.90,155.69 L392.01,156.48 L392.10,157.26 L392.19,158.04 L392.26,158.82 L392.33,159.61 L392.40,160.39 L392.46,161.17 L392.52,161.95 L392.56,162.73 L392.60,163.52 L392.62,164.30 L392.62,165.08 L392.61,165.86 L392.60,166.64 L392.58,167.43 L392.56,168.21 L392.54,168.99 L392.50,169.77 L392.42,170.55 L392.31,171.34 L392.17,172.12 L392.02,172.90 L388.52,172.90Z" fill="#e7a000"/>
<circle cx="47.60" cy="169.00" r="1.90" fill="#000"/>
<circle cx="50.95" cy="171.00" r="1.90" fill="#000"/>
<line x1="60.67" y1="136.70" x2="60.67" y2="149.30" stroke="#333" stroke-width="1.2"/>
<circle cx="60.67" cy="144.20" r="1.90" fill="#000"/>
<circle cx="64.02" cy="157.40" r="1.90" fill="#000"/>
<circle cx="73.74" cy="147.40" r="1.90" fill="#000"/>
<circle cx="77.09" cy="167.40" r="1.90" fill="#000"/>
<circle cx="86.81" cy="165.40" r="1.90" fill="#000"/>
<circle cx="90.16" cy="168.20" r="1.90" fill="#000"/>
<line x1="99.88" y1="64.50" x2="99.88" y2="88.30" stroke="#333" stroke-width="1.2"/>
<circle cx="99.88" cy="76.80" r="1.90" fill="#000"/>
<line x1="103.23" y1="147.80" x2="103.23" y2="166.00" stroke="#333" stroke-width="1.2"/>
<circle cx="103.23" cy="156.60" r="1.90" fill="#000"/>
<circle cx="112.95" cy="157.00" r="1.90" fill="#000"/>
<circle cx="116.30" cy="165.90" r="1.90" fill="#000"/>
<circle cx="126.02" cy="157.30" r="1.90" fill="#000"/>
<circle cx="129.37" cy="166.40" r="1.90" fill="#000"/>
<circle cx="139.09" cy="142.30" r="1.90" fill="#000"/>
<circle cx="142.44" cy="162.50" r="1.90" fill="#000"/>
<line x1="152.16" y1="147.00" x2="152.16" y2="160.60" stroke="#333" stroke-width="1.2"/>
<circle cx="152.16" cy="154.10" r="1.90" fill="#000"/>
<circle cx="155.51" cy="158.10" r="1.90" fill="#000"/>
<circle cx="165.23" cy="167.40" r="1.90" fill="#000"/>
<circle cx="168.58" cy="170.20" r="1.90" fill="#000"/>
<circle cx="178.30" cy="168.70" r="1.90" fill="#000"/>
<circle cx="181.65" cy="168.00" r="1.90" fill="#000"/>
<circle cx="191.37" cy="168.00" r="1.90" fill="#000"/>
<circle cx="194.72" cy="169.60" r="1.90" fill="#000"/>
<circle cx="204.44" cy="173.50" r="1.90" fill="#000"/>
<line x1="207.79" y1="147.10" x2="207.79" y2="154.00" stroke="#333" stroke-width="1.2"/>
<circle cx="207.79" cy="150.30" r="1.90" fill="#000"/>
<circle cx="217.51" cy="142.30" r="1.90" fill="#000"/>
<circle cx="220.86" cy="160.30" r="1.90" fill="#000"/>
<line x1="230.58" y1="90.70" x2="230.58" y2="98.90" stroke="#333" stroke-width="1.2"/>
<circle cx="230.58" cy="94.80" r="1.90" fill="#000"/>
<circle cx="233.93" cy="159.10" r="1.90" fill="#000"/>
<circle cx="243.65" cy="158.20" r="1.90" fill="#000"/>
<circle cx="247.00" cy="161.30" r="1.90" fill="#000"/>
<line x1="256.72" y1="147.10" x2="256.72" y2="159.20" stroke="#333" stroke-width="1.2"/>
<circle cx="256.72" cy="153.50" r="1.90" fill="#000"/>
<circle cx="260.07" cy="161.30" r="1.90" fill="#000"/>
<circle cx="269.79" cy="164.30" r="1.90" fill="#000"/>
<circle cx="273.14" cy="169.40" r="1.90" fill="#000"/>
<circle cx="282.86" cy="171.10" r="1.90" fill="#000"/>
<circle cx="286.21" cy="162.50" r="1.90" fill="#000"/>
<circle cx="295.93" cy="167.80" r="1.90" fill="#000"/>
<circle cx="299.28" cy="169.40" r="1.90" fill="#000"/>
<line x1="309.00" y1="142.80" x2="309.00" y2="156.90" stroke="#333" stroke-width="1.2"/>
<circle cx="309.00" cy="149.80" r="1.90" fill="#000"/>
<circle cx="312.35" cy="165.90" r="1.90" fill="#000"/>
<circle cx="322.07" cy="163.50" r="1.90" fill="#000"/>
<circle cx="325.42" cy="162.50" r="1.90" fill="#000"/>
<circle cx="335.14" cy="163.10" r="1.90" fill="#000"/>
<circle cx="338.49" cy="165.90" r="1.90" fill="#000"/>
<circle cx="348.21" cy="161.20" r="1.90" fill="#000"/>
<circle cx="351.56" cy="142.40" r="1.90" fill="#000"/>
<circle cx="361.28" cy="164.50" r="1.90" fill="#000"/>
<circle cx="364.63" cy="167.70" r="1.90" fill="#000"/>
<line x1="374.35" y1="156.10" x2="374.35" y2="164.70" stroke="#333" stroke-width="1.2"/>
<circle cx="374.35" cy="160.40" r="1.90" fill="#000"/>
<circle cx="377.70" cy="169.20" r="1.90" fill="#000"/>
<circle cx="387.42" cy="168.40" r="1.90" fill="#000"/>
<line x1="390.77" y1="149.80" x2="390.77" y2="160.80" stroke="#333" stroke-width="1.2"/>
<circle cx="390.77" cy="154.90" r="1.90" fill="#000"/>
<line x1="46.80" y1="14.50" x2="51.30" y2="14.50" stroke="#222" stroke-width="1.15"/>
<circle cx="59.67" cy="12.80" r="1.1" fill="#000"/>
<circle cx="62.67" cy="12.80" r="1.1" fill="#000"/>
<circle cx="65.67" cy="12.80" r="1.1" fill="#000"/>
<circle cx="72.74" cy="12.80" r="1.1" fill="#000"/>
<circle cx="75.74" cy="12.80" r="1.1" fill="#000"/>
<circle cx="78.74" cy="12.80" r="1.1" fill="#000"/>
<line x1="86.01" y1="14.50" x2="90.51" y2="14.50" stroke="#222" stroke-width="1.15"/>
<circle cx="98.88" cy="12.80" r="1.1" fill="#000"/>
<circle cx="101.88" cy="12.80" r="1.1" fill="#000"/>
<circle cx="104.88" cy="12.80" r="1.1" fill="#000"/>
<circle cx="111.95" cy="12.80" r="1.1" fill="#000"/>
<circle cx="114.95" cy="12.80" r="1.1" fill="#000"/>
<circle cx="117.95" cy="12.80" r="1.1" fill="#000"/>
<circle cx="125.02" cy="12.80" r="1.1" fill="#000"/>
<circle cx="128.02" cy="12.80" r="1.1" fill="#000"/>
<circle cx="131.02" cy="12.80" r="1.1" fill="#000"/>
<circle cx="138.09" cy="12.80" r="1.1" fill="#000"/>
<circle cx="141.09" cy="12.80" r="1.1" fill="#000"/>
<circle cx="144.09" cy="12.80" r="1.1" fill="#000"/>
<line x1="151.36" y1="14.50" x2="155.86" y2="14.50" stroke="#222" stroke-width="1.15"/>
<circle cx="167.23" cy="12.80" r="1.1" fill="#000"/>
<line x1="177.50" y1="14.50" x2="182.00" y2="14.50" stroke="#222" stroke-width="1.15"/>
<line x1="190.57" y1="14.50" x2="195.07" y2="14.50" stroke="#222" stroke-width="1.15"/>
<circle cx="203.44" cy="12.80" r="1.1" fill="#000"/>
<circle cx="206.44" cy="12.80" r="1.1" fill="#000"/>
<circle cx="209.44" cy="12.80" r="1.1" fill="#000"/>
<circle cx="216.51" cy="12.80" r="1.1" fill="#000"/>
<circle cx="219.51" cy="12.80" r="1.1" fill="#000"/>
<circle cx="222.51" cy="12.80" r="1.1" fill="#000"/>
<circle cx="229.58" cy="12.80" r="1.1" fill="#000"/>
<circle cx="232.58" cy="12.80" r="1.1" fill="#000"/>
<circle cx="235.58" cy="12.80" r="1.1" fill="#000"/>
<circle cx="242.65" cy="12.80" r="1.1" fill="#000"/>
<circle cx="245.65" cy="12.80" r="1.1" fill="#000"/>
<circle cx="248.65" cy="12.80" r="1.1" fill="#000"/>
<circle cx="258.72" cy="12.80" r="1.1" fill="#000"/>
<circle cx="268.79" cy="12.80" r="1.1" fill="#000"/>
<circle cx="271.79" cy="12.80" r="1.1" fill="#000"/>
<circle cx="274.79" cy="12.80" r="1.1" fill="#000"/>
<circle cx="281.86" cy="12.80" r="1.1" fill="#000"/>
<circle cx="284.86" cy="12.80" r="1.1" fill="#000"/>
<circle cx="287.86" cy="12.80" r="1.1" fill="#000"/>
<circle cx="296.43" cy="12.80" r="1.1" fill="#000"/>
<circle cx="299.43" cy="12.80" r="1.1" fill="#000"/>
<circle cx="308.00" cy="12.80" r="1.1" fill="#000"/>
<circle cx="311.00" cy="12.80" r="1.1" fill="#000"/>
<circle cx="314.00" cy="12.80" r="1.1" fill="#000"/>
<line x1="321.27" y1="14.50" x2="325.77" y2="14.50" stroke="#222" stroke-width="1.15"/>
<circle cx="335.64" cy="12.80" r="1.1" fill="#000"/>
<circle cx="338.64" cy="12.80" r="1.1" fill="#000"/>
<circle cx="347.21" cy="12.80" r="1.1" fill="#000"/>
<circle cx="350.21" cy="12.80" r="1.1" fill="#000"/>
<circle cx="353.21" cy="12.80" r="1.1" fill="#000"/>
<circle cx="360.28" cy="12.80" r="1.1" fill="#000"/>
<circle cx="363.28" cy="12.80" r="1.1" fill="#000"/>
<circle cx="366.28" cy="12.80" r="1.1" fill="#000"/>
<circle cx="373.35" cy="12.80" r="1.1" fill="#000"/>
<circle cx="376.35" cy="12.80" r="1.1" fill="#000"/>
<circle cx="379.35" cy="12.80" r="1.1" fill="#000"/>
<circle cx="386.42" cy="12.80" r="1.1" fill="#000"/>
<circle cx="389.42" cy="12.80" r="1.1" fill="#000"/>
<circle cx="392.42" cy="12.80" r="1.1" fill="#000"/>
<rect x="44.90" y="154.50" width="11.0" height="24.70" fill="#fff"/>
<text x="45.30" y="151.90" font-size="8.30" text-anchor="start" fill="#000" font-weight="normal" font-style="normal" stroke="#000" stroke-width="0.25">Group</text>
<rect x="45.70" y="156.40" width="9.4" height="9.4" fill="#4eaee6"/>
<circle cx="50.40" cy="161.10" r="1.9" fill="#000"/>
<text x="60.30" y="164.20" font-size="8.30" text-anchor="start" fill="#000" font-weight="normal" font-style="normal" stroke="#000" stroke-width="0.25">Normal</text>
<rect x="45.70" y="168.00" width="9.4" height="9.4" fill="#e7a000"/>
<circle cx="50.40" cy="172.70" r="1.9" fill="#000"/>
<text x="60.30" y="175.80" font-size="8.30" text-anchor="start" fill="#000" font-weight="normal" font-style="normal" stroke="#000" stroke-width="0.25">Tumor</text>
<rect x="41.40" y="7.40" width="354.90" height="173.60" fill="none" stroke="#6a6a6a" stroke-width="1"/>
<line x1="39.20" y1="174.30" x2="41.40" y2="174.30" stroke="#333" stroke-width="0.9"/>
<text x="39.30" y="177.40" font-size="8.60" text-anchor="end" fill="#3a3a3a" font-weight="normal" font-style="normal" stroke="#3a3a3a" stroke-width="0.25">0.0</text>
<line x1="39.20" y1="130.70" x2="41.40" y2="130.70" stroke="#333" stroke-width="0.9"/>
<text x="39.30" y="133.80" font-size="8.60" text-anchor="end" fill="#3a3a3a" font-weight="normal" font-style="normal" stroke="#3a3a3a" stroke-width="0.25">2.5</text>
<line x1="39.20" y1="87.10" x2="41.40" y2="87.10" stroke="#333" stroke-width="0.9"/>
<text x="39.30" y="90.20" font-size="8.60" text-anchor="end" fill="#3a3a3a" font-weight="normal" font-style="normal" stroke="#3a3a3a" stroke-width="0.25">5.0</text>
<line x1="39.20" y1="43.50" x2="41.40" y2="43.50" stroke="#333" stroke-width="0.9"/>
<text x="39.30" y="46.60" font-size="8.60" text-anchor="end" fill="#3a3a3a" font-weight="normal" font-style="normal" stroke="#3a3a3a" stroke-width="0.25">7.5</text>
<line x1="48.70" y1="181.00" x2="48.70" y2="183.50" stroke="#333" stroke-width="0.8"/>
<text x="51.65" y="185.20" font-size="8.35" text-anchor="end" fill="#1a1a1a" font-weight="normal" font-style="normal" transform="rotate(-90 51.65 185.20)" stroke="#1a1a1a" stroke-width="0.25">ACC(N=128,T=79)</text>
<line x1="61.77" y1="181.00" x2="61.77" y2="183.50" stroke="#333" stroke-width="0.8"/>
<text x="64.72" y="185.20" font-size="8.35" text-anchor="end" fill="#1a1a1a" font-weight="normal" font-style="normal" transform="rotate(-90 64.72 185.20)" stroke="#1a1a1a" stroke-width="0.25">BLCA(N=28,T=408)</text>
<line x1="74.84" y1="181.00" x2="74.84" y2="183.50" stroke="#333" stroke-width="0.8"/>
<text x="77.79" y="185.20" font-size="8.35" text-anchor="end" fill="#1a1a1a" font-weight="normal" font-style="normal" transform="rotate(-90 77.79 185.20)" stroke="#1a1a1a" stroke-width="0.25">BRCA(N=292,T=1098)</text>
<line x1="87.91" y1="181.00" x2="87.91" y2="183.50" stroke="#333" stroke-width="0.8"/>
<text x="90.86" y="185.20" font-size="8.35" text-anchor="end" fill="#1a1a1a" font-weight="normal" font-style="normal" transform="rotate(-90 90.86 185.20)" stroke="#1a1a1a" stroke-width="0.25">CESC(N=13,T=306)</text>
<line x1="100.98" y1="181.00" x2="100.98" y2="183.50" stroke="#333" stroke-width="0.8"/>
<text x="103.93" y="185.20" font-size="8.35" text-anchor="end" fill="#1a1a1a" font-weight="normal" font-style="normal" transform="rotate(-90 103.93 185.20)" stroke="#1a1a1a" stroke-width="0.25">CHOL(N=9,T=36)</text>
<line x1="114.05" y1="181.00" x2="114.05" y2="183.50" stroke="#333" stroke-width="0.8"/>
<text x="117.00" y="185.20" font-size="8.35" text-anchor="end" fill="#ff0000" font-weight="normal" font-style="normal" transform="rotate(-90 117.00 185.20)" stroke="#ff0000" stroke-width="0.25">COAD(N=349,T=458)</text>
<line x1="127.12" y1="181.00" x2="127.12" y2="183.50" stroke="#333" stroke-width="0.8"/>
<text x="130.07" y="185.20" font-size="8.35" text-anchor="end" fill="#1a1a1a" font-weight="normal" font-style="normal" transform="rotate(-90 130.07 185.20)" stroke="#1a1a1a" stroke-width="0.25">ESCA(N=664,T=162)</text>
<line x1="140.19" y1="181.00" x2="140.19" y2="183.50" stroke="#333" stroke-width="0.8"/>
<text x="143.14" y="185.20" font-size="8.35" text-anchor="end" fill="#1a1a1a" font-weight="normal" font-style="normal" transform="rotate(-90 143.14 185.20)" stroke="#1a1a1a" stroke-width="0.25">GBM(N=1157,T=167)</text>
<line x1="153.26" y1="181.00" x2="153.26" y2="183.50" stroke="#333" stroke-width="0.8"/>
<text x="156.21" y="185.20" font-size="8.35" text-anchor="end" fill="#1a1a1a" font-weight="normal" font-style="normal" transform="rotate(-90 156.21 185.20)" stroke="#1a1a1a" stroke-width="0.25">HNSC(N=44,T=502)</text>
<line x1="166.33" y1="181.00" x2="166.33" y2="183.50" stroke="#333" stroke-width="0.8"/>
<text x="169.28" y="185.20" font-size="8.35" text-anchor="end" fill="#1a1a1a" font-weight="normal" font-style="normal" transform="rotate(-90 169.28 185.20)" stroke="#1a1a1a" stroke-width="0.25">KICH(N=52,T=65)</text>
<line x1="179.40" y1="181.00" x2="179.40" y2="183.50" stroke="#333" stroke-width="0.8"/>
<text x="182.35" y="185.20" font-size="8.35" text-anchor="end" fill="#1a1a1a" font-weight="normal" font-style="normal" transform="rotate(-90 182.35 185.20)" stroke="#1a1a1a" stroke-width="0.25">KIRC(N=72,T=531)</text>
<line x1="192.47" y1="181.00" x2="192.47" y2="183.50" stroke="#333" stroke-width="0.8"/>
<text x="195.42" y="185.20" font-size="8.35" text-anchor="end" fill="#1a1a1a" font-weight="normal" font-style="normal" transform="rotate(-90 195.42 185.20)" stroke="#1a1a1a" stroke-width="0.25">KIRP(N=32,T=289)</text>
<line x1="205.54" y1="181.00" x2="205.54" y2="183.50" stroke="#333" stroke-width="0.8"/>
<text x="208.49" y="185.20" font-size="8.35" text-anchor="end" fill="#1a1a1a" font-weight="normal" font-style="normal" transform="rotate(-90 208.49 185.20)" stroke="#1a1a1a" stroke-width="0.25">LAML(N=70,T=151)</text>
<line x1="218.61" y1="181.00" x2="218.61" y2="183.50" stroke="#333" stroke-width="0.8"/>
<text x="221.56" y="185.20" font-size="8.35" text-anchor="end" fill="#1a1a1a" font-weight="normal" font-style="normal" transform="rotate(-90 221.56 185.20)" stroke="#1a1a1a" stroke-width="0.25">LGG(N=1157,T=525)</text>
<line x1="231.68" y1="181.00" x2="231.68" y2="183.50" stroke="#333" stroke-width="0.8"/>
<text x="234.63" y="185.20" font-size="8.35" text-anchor="end" fill="#1a1a1a" font-weight="normal" font-style="normal" transform="rotate(-90 234.63 185.20)" stroke="#1a1a1a" stroke-width="0.25">LIHC(N=160,T=373)</text>
<line x1="244.75" y1="181.00" x2="244.75" y2="183.50" stroke="#333" stroke-width="0.8"/>
<text x="247.70" y="185.20" font-size="8.35" text-anchor="end" fill="#1a1a1a" font-weight="normal" font-style="normal" transform="rotate(-90 247.70 185.20)" stroke="#1a1a1a" stroke-width="0.25">LUAD(N=347,T=515)</text>
<line x1="257.82" y1="181.00" x2="257.82" y2="183.50" stroke="#333" stroke-width="0.8"/>
<text x="260.77" y="185.20" font-size="8.35" text-anchor="end" fill="#1a1a1a" font-weight="normal" font-style="normal" transform="rotate(-90 260.77 185.20)" stroke="#1a1a1a" stroke-width="0.25">LUSC(N=49,T=501)</text>
<line x1="270.89" y1="181.00" x2="270.89" y2="183.50" stroke="#333" stroke-width="0.8"/>
<text x="273.84" y="185.20" font-size="8.35" text-anchor="end" fill="#1a1a1a" font-weight="normal" font-style="normal" transform="rotate(-90 273.84 185.20)" stroke="#1a1a1a" stroke-width="0.25">OV(N=88,T=379)</text>
<line x1="283.96" y1="181.00" x2="283.96" y2="183.50" stroke="#333" stroke-width="0.8"/>
<text x="286.91" y="185.20" font-size="8.35" text-anchor="end" fill="#1a1a1a" font-weight="normal" font-style="normal" transform="rotate(-90 286.91 185.20)" stroke="#1a1a1a" stroke-width="0.25">PAAD(N=171,T=178)</text>
<line x1="297.03" y1="181.00" x2="297.03" y2="183.50" stroke="#333" stroke-width="0.8"/>
<text x="299.98" y="185.20" font-size="8.35" text-anchor="end" fill="#1a1a1a" font-weight="normal" font-style="normal" transform="rotate(-90 299.98 185.20)" stroke="#1a1a1a" stroke-width="0.25">PRAD(N=152,T=496)</text>
<line x1="310.10" y1="181.00" x2="310.10" y2="183.50" stroke="#333" stroke-width="0.8"/>
<text x="313.05" y="185.20" font-size="8.35" text-anchor="end" fill="#1a1a1a" font-weight="normal" font-style="normal" transform="rotate(-90 313.05 185.20)" stroke="#1a1a1a" stroke-width="0.25">READ(N=10,T=167)</text>
<line x1="323.17" y1="181.00" x2="323.17" y2="183.50" stroke="#333" stroke-width="0.8"/>
<text x="326.12" y="185.20" font-size="8.35" text-anchor="end" fill="#1a1a1a" font-weight="normal" font-style="normal" transform="rotate(-90 326.12 185.20)" stroke="#1a1a1a" stroke-width="0.25">SKCM(N=813,T=471)</text>
<line x1="336.24" y1="181.00" x2="336.24" y2="183.50" stroke="#333" stroke-width="0.8"/>
<text x="339.19" y="185.20" font-size="8.35" text-anchor="end" fill="#1a1a1a" font-weight="normal" font-style="normal" transform="rotate(-90 339.19 185.20)" stroke="#1a1a1a" stroke-width="0.25">STAD(N=206,T=375)</text>
<line x1="349.31" y1="181.00" x2="349.31" y2="183.50" stroke="#333" stroke-width="0.8"/>
<text x="352.26" y="185.20" font-size="8.35" text-anchor="end" fill="#1a1a1a" font-weight="normal" font-style="normal" transform="rotate(-90 352.26 185.20)" stroke="#1a1a1a" stroke-width="0.25">TGCT(N=165,T=156)</text>
<line x1="362.38" y1="181.00" x2="362.38" y2="183.50" stroke="#333" stroke-width="0.8"/>
<text x="365.33" y="185.20" font-size="8.35" text-anchor="end" fill="#1a1a1a" font-weight="normal" font-style="normal" transform="rotate(-90 365.33 185.20)" stroke="#1a1a1a" stroke-width="0.25">THCA(N=337,T=510)</text>
<line x1="375.45" y1="181.00" x2="375.45" y2="183.50" stroke="#333" stroke-width="0.8"/>
<text x="378.40" y="185.20" font-size="8.35" text-anchor="end" fill="#1a1a1a" font-weight="normal" font-style="normal" transform="rotate(-90 378.40 185.20)" stroke="#1a1a1a" stroke-width="0.25">UCEC(N=35,T=544)</text>
<line x1="388.52" y1="181.00" x2="388.52" y2="183.50" stroke="#333" stroke-width="0.8"/>
<text x="391.47" y="185.20" font-size="8.35" text-anchor="end" fill="#1a1a1a" font-weight="normal" font-style="normal" transform="rotate(-90 391.47 185.20)" stroke="#1a1a1a" stroke-width="0.25">UCS(N=78,T=56)</text>
<text x="26.60" y="93.40" font-size="8.90" text-anchor="middle" fill="#000" font-weight="normal" font-style="normal" transform="rotate(-90 26.60 93.40)" stroke="#000" stroke-width="0.25">log2(TPM+1)</text>
<text x="6.60" y="13.70" font-size="11.00" text-anchor="start" fill="#000" font-weight="normal" font-style="normal" stroke="#000" stroke-width="0.25">A</text>
<rect x="43.30" y="284.30" width="353.10" height="173.30" fill="#fff"/>
<line x1="43.30" y1="427.20" x2="396.40" y2="427.20" stroke="#efefef" stroke-width="0.8"/>
<line x1="43.30" y1="381.80" x2="396.40" y2="381.80" stroke="#efefef" stroke-width="0.8"/>
<line x1="43.30" y1="336.40" x2="396.40" y2="336.40" stroke="#efefef" stroke-width="0.8"/>
<line x1="43.30" y1="291.00" x2="396.40" y2="291.00" stroke="#efefef" stroke-width="0.8"/>
<line x1="43.30" y1="449.90" x2="396.40" y2="449.90" stroke="#e9e9e9" stroke-width="0.9"/>
<line x1="43.30" y1="404.50" x2="396.40" y2="404.50" stroke="#e9e9e9" stroke-width="0.9"/>
<line x1="43.30" y1="359.10" x2="396.40" y2="359.10" stroke="#e9e9e9" stroke-width="0.9"/>
<line x1="43.30" y1="313.70" x2="396.40" y2="313.70" stroke="#e9e9e9" stroke-width="0.9"/>
<line x1="53.40" y1="288.80" x2="53.40" y2="363.60" stroke="#e0e0e0" stroke-width="0.8"/>
<line x1="70.90" y1="288.80" x2="70.90" y2="345.00" stroke="#e0e0e0" stroke-width="0.8"/>
<line x1="88.40" y1="288.80" x2="88.40" y2="324.50" stroke="#e0e0e0" stroke-width="0.8"/>
<line x1="105.90" y1="288.80" x2="105.90" y2="352.70" stroke="#e0e0e0" stroke-width="0.8"/>
<line x1="123.40" y1="288.80" x2="123.40" y2="354.50" stroke="#e0e0e0" stroke-width="0.8"/>
<line x1="140.90" y1="288.80" x2="140.90" y2="360.50" stroke="#e0e0e0" stroke-width="0.8"/>
<line x1="158.40" y1="288.80" x2="158.40" y2="340.00" stroke="#e0e0e0" stroke-width="0.8"/>
<line x1="175.90" y1="288.80" x2="175.90" y2="413.00" stroke="#e0e0e0" stroke-width="0.8"/>
<line x1="193.40" y1="288.80" x2="193.40" y2="369.00" stroke="#e0e0e0" stroke-width="0.8"/>
<line x1="210.90" y1="288.80" x2="210.90" y2="374.00" stroke="#e0e0e0" stroke-width="0.8"/>
<line x1="228.40" y1="288.80" x2="228.40" y2="381.00" stroke="#e0e0e0" stroke-width="0.8"/>
<line x1="245.90" y1="288.80" x2="245.90" y2="323.00" stroke="#e0e0e0" stroke-width="0.8"/>
<line x1="263.40" y1="288.80" x2="263.40" y2="350.00" stroke="#e0e0e0" stroke-width="0.8"/>
<line x1="280.90" y1="288.80" x2="280.90" y2="338.00" stroke="#e0e0e0" stroke-width="0.8"/>
<line x1="298.40" y1="288.80" x2="298.40" y2="357.00" stroke="#e0e0e0" stroke-width="0.8"/>
<line x1="315.90" y1="288.80" x2="315.90" y2="394.60" stroke="#e0e0e0" stroke-width="0.8"/>
<line x1="333.40" y1="288.80" x2="333.40" y2="357.00" stroke="#e0e0e0" stroke-width="0.8"/>
<line x1="350.90" y1="288.80" x2="350.90" y2="386.00" stroke="#e0e0e0" stroke-width="0.8"/>
<line x1="368.40" y1="288.80" x2="368.40" y2="321.40" stroke="#e0e0e0" stroke-width="0.8"/>
<line x1="385.90" y1="288.80" x2="385.90" y2="376.00" stroke="#e0e0e0" stroke-width="0.8"/>
<path d="M53.40,364.00 L53.40,364.00 L53.18,366.00 L52.97,368.00 L52.77,370.00 L52.60,372.00 L52.45,374.00 L52.33,376.00 L52.21,378.00 L52.08,380.00 L51.93,382.00 L51.73,384.00 L51.50,386.00 L51.23,388.00 L50.96,390.00 L50.70,392.00 L50.45,394.00 L50.21,396.00 L49.95,398.00 L49.68,400.00 L49.35,402.00 L48.96,404.00 L48.56,406.00 L48.20,408.00 L47.86,410.00 L47.53,412.00 L47.28,414.00 L47.15,416.00 L47.05,418.00 L46.97,420.00 L46.92,422.00 L46.90,424.00 L46.99,426.00 L47.20,428.00 L47.61,430.00 L48.28,432.00 L49.31,434.00 L50.40,436.00 L51.40,438.00 L52.40,440.00 L53.40,442.00 L53.40,442.00Z" fill="#4eaee6"/>
<path d="M53.40,421.00 L53.40,421.00 L53.63,421.73 L53.84,422.46 L54.04,423.18 L54.21,423.91 L54.35,424.64 L54.44,425.37 L54.52,426.10 L54.57,426.83 L54.62,427.55 L54.66,428.28 L54.71,429.01 L54.77,429.74 L54.84,430.47 L54.93,431.19 L55.06,431.92 L55.24,432.65 L55.46,433.38 L55.71,434.11 L55.98,434.84 L56.28,435.56 L56.59,436.29 L56.91,437.02 L57.29,437.75 L57.77,438.48 L58.28,439.21 L58.78,439.93 L59.22,440.66 L59.60,441.39 L59.99,442.12 L60.34,442.85 L60.56,443.57 L60.59,444.30 L60.46,445.03 L60.22,445.76 L59.91,446.49 L59.30,447.22 L58.46,447.94 L57.69,448.67 L56.90,449.40 L53.40,449.40Z" fill="#e7a000"/>
<path d="M70.90,389.50 L70.90,389.50 L70.45,391.04 L70.03,392.57 L69.62,394.11 L69.25,395.64 L68.89,397.18 L68.56,398.72 L68.23,400.25 L67.91,401.79 L67.58,403.32 L67.24,404.86 L66.92,406.39 L66.61,407.93 L66.33,409.47 L66.05,411.00 L65.79,412.54 L65.54,414.07 L65.31,415.61 L65.07,417.15 L64.86,418.68 L64.67,420.22 L64.54,421.75 L64.41,423.29 L64.30,424.83 L64.22,426.36 L64.20,427.90 L64.27,429.43 L64.42,430.97 L64.64,432.51 L64.90,434.04 L65.18,435.58 L65.46,437.11 L65.80,438.65 L66.20,440.18 L66.62,441.72 L67.07,443.26 L67.56,444.79 L68.03,446.33 L68.47,447.86 L68.90,449.40 L70.90,449.40Z" fill="#4eaee6"/>
<path d="M70.90,440.00 L70.90,440.00 L71.04,440.24 L71.18,440.48 L71.32,440.72 L71.46,440.96 L71.59,441.21 L71.73,441.45 L71.86,441.69 L71.99,441.93 L72.11,442.17 L72.24,442.41 L72.36,442.65 L72.48,442.89 L72.59,443.13 L72.71,443.37 L72.82,443.62 L72.92,443.86 L73.03,444.10 L73.13,444.34 L73.23,444.58 L73.33,444.82 L73.42,445.06 L73.52,445.30 L73.61,445.54 L73.70,445.78 L73.78,446.03 L73.87,446.27 L73.95,446.51 L74.04,446.75 L74.12,446.99 L74.19,447.23 L74.27,447.47 L74.35,447.71 L74.42,447.95 L74.49,448.19 L74.55,448.44 L74.62,448.68 L74.68,448.92 L74.74,449.16 L74.80,449.40 L70.90,449.40Z" fill="#e7a000"/>
<path d="M88.40,324.50 L88.40,324.50 L87.33,326.02 L86.33,327.53 L85.42,329.05 L84.61,330.56 L83.79,332.08 L83.02,333.59 L82.38,335.11 L81.96,336.62 L81.76,338.14 L81.61,339.65 L81.51,341.17 L81.53,342.68 L81.77,344.20 L82.18,345.72 L82.66,347.23 L83.14,348.75 L83.73,350.26 L84.40,351.78 L85.09,353.29 L85.78,354.81 L86.55,356.32 L87.16,357.84 L87.52,359.35 L87.79,360.87 L87.92,362.38 L87.99,363.90 L88.05,365.42 L88.11,366.93 L88.16,368.45 L88.21,369.96 L88.25,371.48 L88.29,372.99 L88.32,374.51 L88.34,376.02 L88.36,377.54 L88.38,379.05 L88.39,380.57 L88.40,382.08 L88.40,383.60 L88.40,383.60Z" fill="#4eaee6"/>
<path d="M88.40,434.50 L88.40,434.50 L88.59,434.88 L88.80,435.26 L89.00,435.65 L89.21,436.03 L89.43,436.41 L89.66,436.79 L89.89,437.17 L90.12,437.56 L90.36,437.94 L90.61,438.32 L90.87,438.70 L91.15,439.08 L91.43,439.47 L91.72,439.85 L92.00,440.23 L92.29,440.61 L92.56,440.99 L92.82,441.38 L93.08,441.76 L93.36,442.14 L93.65,442.52 L93.95,442.91 L94.25,443.29 L94.52,443.67 L94.76,444.05 L94.96,444.43 L95.11,444.82 L95.19,445.20 L95.20,445.58 L95.20,445.96 L95.20,446.34 L95.19,446.73 L95.18,447.11 L95.16,447.49 L95.13,447.87 L95.09,448.25 L95.04,448.64 L94.98,449.02 L94.90,449.40 L88.40,449.40Z" fill="#e7a000"/>
<path d="M105.90,397.70 L105.90,397.70 L105.79,398.90 L105.69,400.10 L105.59,401.30 L105.49,402.50 L105.40,403.70 L105.31,404.90 L105.23,406.10 L105.17,407.30 L105.11,408.50 L105.04,409.70 L104.94,410.90 L104.78,412.10 L104.50,413.30 L104.15,414.50 L103.79,415.70 L103.44,416.90 L103.08,418.10 L102.70,419.30 L102.32,420.50 L101.95,421.70 L101.56,422.90 L101.18,424.10 L100.80,425.30 L100.45,426.50 L100.05,427.70 L99.64,428.90 L99.31,430.10 L99.12,431.30 L99.15,432.50 L99.42,433.70 L99.86,434.90 L100.39,436.10 L100.95,437.30 L101.63,438.50 L102.47,439.70 L103.33,440.90 L104.16,442.10 L105.02,443.30 L105.90,444.50 L105.90,444.50Z" fill="#4eaee6"/>
<path d="M105.90,442.70 L105.90,442.70 L106.14,442.87 L106.37,443.04 L106.60,443.22 L106.83,443.39 L107.06,443.56 L107.29,443.73 L107.52,443.90 L107.74,444.07 L107.96,444.25 L108.18,444.42 L108.39,444.59 L108.61,444.76 L108.82,444.93 L109.03,445.11 L109.26,445.28 L109.50,445.45 L109.75,445.62 L110.00,445.79 L110.26,445.96 L110.52,446.14 L110.77,446.31 L111.02,446.48 L111.26,446.65 L111.48,446.82 L111.69,446.99 L111.88,447.17 L112.04,447.34 L112.18,447.51 L112.29,447.68 L112.36,447.85 L112.40,448.03 L112.40,448.20 L112.40,448.37 L112.39,448.54 L112.38,448.71 L112.36,448.88 L112.32,449.06 L112.27,449.23 L112.20,449.40 L105.90,449.40Z" fill="#e7a000"/>
<path d="M123.40,428.40 L123.40,428.40 L123.23,428.94 L123.05,429.48 L122.88,430.02 L122.71,430.55 L122.53,431.09 L122.35,431.63 L122.18,432.17 L122.00,432.71 L121.82,433.25 L121.63,433.78 L121.45,434.32 L121.26,434.86 L121.07,435.40 L120.88,435.94 L120.70,436.48 L120.51,437.02 L120.34,437.55 L120.17,438.09 L120.00,438.63 L119.84,439.17 L119.67,439.71 L119.51,440.25 L119.35,440.78 L119.20,441.32 L119.06,441.86 L118.93,442.40 L118.81,442.94 L118.70,443.48 L118.59,444.02 L118.47,444.55 L118.37,445.09 L118.29,445.63 L118.23,446.17 L118.20,446.71 L118.20,447.25 L118.22,447.78 L118.26,448.32 L118.32,448.86 L118.40,449.40 L123.40,449.40Z" fill="#4eaee6"/>
<path d="M123.40,441.00 L123.40,441.00 L123.61,441.22 L123.82,441.43 L124.03,441.65 L124.24,441.86 L124.45,442.08 L124.66,442.29 L124.88,442.51 L125.09,442.72 L125.31,442.94 L125.53,443.15 L125.75,443.37 L125.97,443.58 L126.19,443.80 L126.42,444.02 L126.66,444.23 L126.92,444.45 L127.21,444.66 L127.51,444.88 L127.82,445.09 L128.13,445.31 L128.44,445.52 L128.74,445.74 L129.03,445.95 L129.30,446.17 L129.54,446.38 L129.75,446.60 L129.93,446.82 L130.07,447.03 L130.16,447.25 L130.20,447.46 L130.20,447.68 L130.20,447.89 L130.19,448.11 L130.18,448.32 L130.15,448.54 L130.11,448.75 L130.06,448.97 L129.99,449.18 L129.90,449.40 L123.40,449.40Z" fill="#e7a000"/>
<path d="M140.90,385.00 L140.90,385.00 L140.15,385.27 L139.44,385.54 L138.77,385.81 L138.18,386.08 L137.66,386.35 L137.22,386.62 L136.82,386.88 L136.45,387.15 L136.10,387.42 L135.79,387.69 L135.52,387.96 L135.29,388.23 L135.10,388.50 L134.94,388.77 L134.78,389.04 L134.63,389.31 L134.49,389.58 L134.37,389.85 L134.26,390.12 L134.18,390.38 L134.13,390.65 L134.10,390.92 L134.12,391.19 L134.20,391.46 L134.33,391.73 L134.51,392.00 L134.73,392.27 L134.96,392.54 L135.22,392.81 L135.48,393.08 L135.80,393.35 L136.20,393.62 L136.66,393.88 L137.17,394.15 L137.73,394.42 L138.36,394.69 L139.11,394.96 L139.97,395.23 L140.90,395.50 L140.90,395.50Z" fill="#4eaee6"/>
<path d="M140.90,413.50 L140.90,413.50 L140.62,413.61 L140.36,413.73 L140.10,413.84 L139.87,413.95 L139.65,414.06 L139.44,414.18 L139.25,414.29 L139.07,414.40 L138.91,414.52 L138.76,414.63 L138.63,414.74 L138.51,414.85 L138.41,414.97 L138.32,415.08 L138.25,415.19 L138.19,415.31 L138.15,415.42 L138.12,415.53 L138.10,415.64 L138.10,415.76 L138.12,415.87 L138.15,415.98 L138.19,416.09 L138.25,416.21 L138.32,416.32 L138.41,416.43 L138.51,416.55 L138.63,416.66 L138.76,416.77 L138.91,416.88 L139.07,417.00 L139.25,417.11 L139.44,417.22 L139.65,417.34 L139.87,417.45 L140.10,417.56 L140.36,417.67 L140.62,417.79 L140.90,417.90 L140.90,417.90Z" fill="#4eaee6"/>
<path d="M140.90,427.30 L140.90,427.30 L141.06,427.87 L141.23,428.43 L141.40,429.00 L141.58,429.57 L141.76,430.13 L141.95,430.70 L142.14,431.27 L142.34,431.83 L142.54,432.40 L142.76,432.97 L142.98,433.53 L143.21,434.10 L143.44,434.67 L143.68,435.23 L143.91,435.80 L144.14,436.37 L144.37,436.93 L144.60,437.50 L144.85,438.07 L145.09,438.63 L145.34,439.20 L145.58,439.77 L145.81,440.33 L146.03,440.90 L146.23,441.47 L146.41,442.03 L146.59,442.60 L146.77,443.17 L146.95,443.73 L147.11,444.30 L147.25,444.87 L147.35,445.43 L147.40,446.00 L147.39,446.57 L147.36,447.13 L147.30,447.70 L147.20,448.27 L147.07,448.83 L146.90,449.40 L140.90,449.40Z" fill="#e7a000"/>
<path d="M158.40,426.00 L158.40,426.00 L158.10,426.60 L157.80,427.20 L157.50,427.80 L157.20,428.40 L156.90,429.00 L156.60,429.60 L156.29,430.20 L155.98,430.80 L155.66,431.40 L155.35,432.00 L155.04,432.60 L154.74,433.20 L154.45,433.80 L154.17,434.40 L153.90,435.00 L153.65,435.60 L153.42,436.20 L153.19,436.80 L152.95,437.40 L152.70,438.00 L152.46,438.60 L152.23,439.20 L152.01,439.80 L151.81,440.40 L151.63,441.00 L151.49,441.60 L151.38,442.20 L151.32,442.80 L151.30,443.40 L151.31,444.00 L151.34,444.60 L151.39,445.20 L151.46,445.80 L151.55,446.40 L151.67,447.00 L151.81,447.60 L151.98,448.20 L152.18,448.80 L152.40,449.40 L158.40,449.40Z" fill="#4eaee6"/>
<path d="M158.40,417.20 L158.40,417.20 L158.54,418.03 L158.69,418.85 L158.86,419.68 L159.04,420.50 L159.23,421.33 L159.44,422.15 L159.67,422.98 L159.92,423.81 L160.19,424.63 L160.47,425.46 L160.77,426.28 L161.07,427.11 L161.38,427.93 L161.70,428.76 L162.07,429.58 L162.45,430.41 L162.82,431.24 L163.16,432.06 L163.44,432.89 L163.67,433.71 L163.89,434.54 L164.12,435.36 L164.34,436.19 L164.54,437.02 L164.72,437.84 L164.88,438.67 L165.02,439.49 L165.12,440.32 L165.18,441.14 L165.20,441.97 L165.14,442.79 L164.99,443.62 L164.80,444.45 L164.58,445.27 L164.38,446.10 L164.17,446.92 L163.93,447.75 L163.67,448.57 L163.40,449.40 L158.40,449.40Z" fill="#e7a000"/>
<path d="M175.90,436.20 L175.90,436.20 L175.66,436.54 L175.43,436.88 L175.20,437.22 L174.97,437.55 L174.75,437.89 L174.52,438.23 L174.30,438.57 L174.09,438.91 L173.87,439.25 L173.66,439.58 L173.45,439.92 L173.24,440.26 L173.04,440.60 L172.84,440.94 L172.65,441.28 L172.46,441.62 L172.27,441.95 L172.08,442.29 L171.89,442.63 L171.70,442.97 L171.51,443.31 L171.31,443.65 L171.11,443.98 L170.89,444.32 L170.63,444.66 L170.36,445.00 L170.07,445.34 L169.80,445.68 L169.53,446.02 L169.30,446.35 L169.11,446.69 L168.98,447.03 L168.91,447.37 L168.90,447.71 L168.90,448.05 L168.92,448.38 L168.95,448.72 L169.01,449.06 L169.10,449.40 L175.90,449.40Z" fill="#4eaee6"/>
<path d="M175.90,446.50 L175.90,446.50 L176.15,446.57 L176.40,446.65 L176.64,446.72 L176.88,446.80 L177.11,446.87 L177.34,446.95 L177.57,447.02 L177.79,447.09 L178.01,447.17 L178.22,447.24 L178.42,447.32 L178.62,447.39 L178.81,447.47 L179.01,447.54 L179.21,447.62 L179.42,447.69 L179.64,447.76 L179.86,447.84 L180.08,447.91 L180.28,447.99 L180.48,448.06 L180.65,448.14 L180.80,448.21 L180.93,448.28 L181.02,448.36 L181.08,448.43 L181.10,448.51 L181.10,448.58 L181.10,448.66 L181.10,448.73 L181.10,448.81 L181.10,448.88 L181.10,448.95 L181.10,449.03 L181.10,449.10 L181.10,449.18 L181.10,449.25 L181.10,449.33 L181.10,449.40 L175.90,449.40Z" fill="#e7a000"/>
<path d="M193.40,440.00 L193.40,440.00 L193.20,440.24 L193.00,440.48 L192.80,440.72 L192.60,440.96 L192.40,441.21 L192.19,441.45 L191.99,441.69 L191.79,441.93 L191.59,442.17 L191.39,442.41 L191.19,442.65 L190.99,442.89 L190.79,443.13 L190.59,443.37 L190.38,443.62 L190.18,443.86 L189.97,444.10 L189.77,444.34 L189.57,444.58 L189.36,444.82 L189.16,445.06 L188.96,445.30 L188.77,445.54 L188.57,445.78 L188.38,446.03 L188.17,446.27 L187.94,446.51 L187.70,446.75 L187.46,446.99 L187.25,447.23 L187.08,447.47 L186.96,447.71 L186.90,447.95 L186.90,448.19 L186.91,448.44 L186.92,448.68 L186.96,448.92 L187.01,449.16 L187.10,449.40 L193.40,449.40Z" fill="#4eaee6"/>
<path d="M193.40,438.00 L193.40,438.00 L193.59,438.29 L193.78,438.58 L193.97,438.88 L194.16,439.17 L194.36,439.46 L194.55,439.75 L194.75,440.05 L194.95,440.34 L195.15,440.63 L195.35,440.92 L195.55,441.22 L195.76,441.51 L195.97,441.80 L196.18,442.09 L196.40,442.38 L196.61,442.68 L196.83,442.97 L197.04,443.26 L197.25,443.55 L197.46,443.85 L197.66,444.14 L197.85,444.43 L198.05,444.72 L198.27,445.02 L198.50,445.31 L198.73,445.60 L198.96,445.89 L199.19,446.18 L199.40,446.48 L199.59,446.77 L199.75,447.06 L199.88,447.35 L199.96,447.65 L200.00,447.94 L200.00,448.23 L199.98,448.52 L199.95,448.82 L199.89,449.11 L199.80,449.40 L193.40,449.40Z" fill="#e7a000"/>
<path d="M210.90,440.90 L210.90,440.90 L210.69,441.12 L210.47,441.34 L210.26,441.55 L210.05,441.77 L209.84,441.99 L209.63,442.21 L209.42,442.43 L209.21,442.64 L209.00,442.86 L208.80,443.08 L208.59,443.30 L208.39,443.52 L208.18,443.73 L207.98,443.95 L207.77,444.17 L207.57,444.39 L207.37,444.61 L207.16,444.82 L206.96,445.04 L206.76,445.26 L206.57,445.48 L206.37,445.69 L206.18,445.91 L205.98,446.13 L205.75,446.35 L205.51,446.57 L205.26,446.78 L205.03,447.00 L204.81,447.22 L204.63,447.44 L204.49,447.66 L204.41,447.87 L204.40,448.09 L204.40,448.31 L204.41,448.53 L204.43,448.75 L204.47,448.96 L204.52,449.18 L204.60,449.40 L210.90,449.40Z" fill="#4eaee6"/>
<path d="M210.90,446.40 L210.90,446.40 L211.11,446.48 L211.32,446.55 L211.53,446.63 L211.74,446.71 L211.95,446.78 L212.16,446.86 L212.37,446.94 L212.58,447.02 L212.79,447.09 L213.00,447.17 L213.21,447.25 L213.42,447.32 L213.63,447.40 L213.84,447.48 L214.05,447.55 L214.29,447.63 L214.55,447.71 L214.83,447.78 L215.10,447.86 L215.38,447.94 L215.64,448.02 L215.89,448.09 L216.11,448.17 L216.30,448.25 L216.45,448.32 L216.55,448.40 L216.60,448.48 L216.60,448.55 L216.60,448.63 L216.60,448.71 L216.60,448.78 L216.60,448.86 L216.60,448.94 L216.60,449.02 L216.60,449.09 L216.60,449.17 L216.60,449.25 L216.60,449.32 L216.60,449.40 L210.90,449.40Z" fill="#e7a000"/>
<path d="M228.40,386.00 L228.40,386.00 L227.70,386.26 L227.02,386.51 L226.39,386.77 L225.81,387.03 L225.29,387.28 L224.84,387.54 L224.42,387.79 L224.03,388.05 L223.66,388.31 L223.32,388.56 L223.02,388.82 L222.75,389.08 L222.52,389.33 L222.34,389.59 L222.17,389.85 L222.00,390.10 L221.85,390.36 L221.71,390.62 L221.59,390.87 L221.49,391.13 L221.43,391.38 L221.40,391.64 L221.43,391.90 L221.54,392.15 L221.73,392.41 L221.96,392.67 L222.24,392.92 L222.53,393.18 L222.83,393.44 L223.13,393.69 L223.48,393.95 L223.88,394.21 L224.32,394.46 L224.81,394.72 L225.34,394.97 L225.96,395.23 L226.69,395.49 L227.52,395.74 L228.40,396.00 L228.40,396.00Z" fill="#4eaee6"/>
<path d="M228.40,414.20 L228.40,414.20 L228.15,414.29 L227.91,414.39 L227.69,414.48 L227.47,414.58 L227.27,414.67 L227.09,414.77 L226.91,414.86 L226.75,414.96 L226.61,415.05 L226.47,415.15 L226.35,415.24 L226.25,415.34 L226.16,415.43 L226.08,415.53 L226.01,415.62 L225.96,415.72 L225.93,415.81 L225.91,415.91 L225.90,416.00 L225.91,416.10 L225.92,416.19 L225.95,416.29 L226.00,416.38 L226.05,416.48 L226.12,416.57 L226.20,416.67 L226.29,416.76 L226.39,416.86 L226.51,416.95 L226.64,417.05 L226.78,417.14 L226.94,417.24 L227.11,417.33 L227.29,417.43 L227.48,417.52 L227.69,417.62 L227.91,417.71 L228.15,417.81 L228.40,417.90 L228.40,417.90Z" fill="#4eaee6"/>
<path d="M228.40,420.00 L228.40,420.00 L228.48,420.75 L228.57,421.51 L228.66,422.26 L228.77,423.02 L228.88,423.77 L228.99,424.52 L229.12,425.28 L229.24,426.03 L229.38,426.78 L229.51,427.54 L229.66,428.29 L229.80,429.05 L229.96,429.80 L230.13,430.55 L230.31,431.31 L230.49,432.06 L230.68,432.82 L230.89,433.57 L231.10,434.32 L231.32,435.08 L231.55,435.83 L231.79,436.58 L232.07,437.34 L232.37,438.09 L232.69,438.85 L233.01,439.60 L233.33,440.35 L233.65,441.11 L234.02,441.86 L234.44,442.62 L234.83,443.37 L235.11,444.12 L235.20,444.88 L235.09,445.63 L234.84,446.38 L234.54,447.14 L234.23,447.89 L233.85,448.65 L233.40,449.40 L228.40,449.40Z" fill="#e7a000"/>
<path d="M245.90,323.00 L245.90,323.00 L245.46,323.85 L245.02,324.70 L244.58,325.55 L244.15,326.39 L243.73,327.24 L243.32,328.09 L242.90,328.94 L242.50,329.79 L242.08,330.64 L241.61,331.49 L241.11,332.34 L240.61,333.18 L240.13,334.03 L239.72,334.88 L239.39,335.73 L239.17,336.58 L239.10,337.43 L239.17,338.28 L239.36,339.13 L239.64,339.97 L239.98,340.82 L240.38,341.67 L240.79,342.52 L241.20,343.37 L241.59,344.22 L241.92,345.07 L242.23,345.92 L242.54,346.76 L242.85,347.61 L243.16,348.46 L243.46,349.31 L243.77,350.16 L244.08,351.01 L244.38,351.86 L244.69,352.71 L244.99,353.55 L245.30,354.40 L245.60,355.25 L245.90,356.10 L245.90,356.10Z" fill="#4eaee6"/>
<path d="M245.90,433.00 L245.90,433.00 L246.04,433.42 L246.19,433.84 L246.35,434.26 L246.52,434.68 L246.70,435.10 L246.88,435.52 L247.07,435.94 L247.28,436.36 L247.49,436.78 L247.72,437.21 L247.96,437.63 L248.20,438.05 L248.46,438.47 L248.71,438.89 L248.97,439.31 L249.23,439.73 L249.49,440.15 L249.77,440.57 L250.07,440.99 L250.37,441.41 L250.67,441.83 L250.96,442.25 L251.24,442.67 L251.49,443.09 L251.71,443.51 L251.91,443.93 L252.12,444.35 L252.32,444.77 L252.50,445.19 L252.63,445.62 L252.69,446.04 L252.70,446.46 L252.70,446.88 L252.69,447.30 L252.67,447.72 L252.63,448.14 L252.58,448.56 L252.50,448.98 L252.40,449.40 L245.90,449.40Z" fill="#e7a000"/>
<path d="M263.40,424.30 L263.40,424.30 L263.25,424.94 L263.09,425.59 L262.93,426.23 L262.77,426.87 L262.60,427.52 L262.42,428.16 L262.24,428.81 L262.06,429.45 L261.87,430.09 L261.69,430.74 L261.50,431.38 L261.30,432.02 L261.10,432.67 L260.89,433.31 L260.66,433.95 L260.42,434.60 L260.15,435.24 L259.85,435.88 L259.51,436.53 L259.15,437.17 L258.78,437.82 L258.42,438.46 L258.02,439.10 L257.54,439.75 L257.06,440.39 L256.67,441.03 L256.43,441.68 L256.43,442.32 L256.62,442.96 L256.96,443.61 L257.38,444.25 L257.83,444.89 L258.33,445.54 L258.97,446.18 L259.67,446.83 L260.37,447.47 L261.03,448.11 L261.71,448.76 L262.40,449.40 L263.40,449.40Z" fill="#4eaee6"/>
<path d="M263.40,423.10 L263.40,423.10 L263.53,423.77 L263.68,424.45 L263.83,425.12 L264.00,425.80 L264.17,426.47 L264.35,427.15 L264.55,427.82 L264.75,428.49 L264.95,429.17 L265.18,429.84 L265.42,430.52 L265.68,431.19 L265.96,431.87 L266.23,432.54 L266.51,433.22 L266.79,433.89 L267.07,434.56 L267.33,435.24 L267.60,435.91 L267.88,436.59 L268.15,437.26 L268.41,437.94 L268.66,438.61 L268.90,439.28 L269.17,439.96 L269.45,440.63 L269.71,441.31 L269.92,441.98 L270.06,442.66 L270.10,443.33 L270.03,444.01 L269.90,444.68 L269.72,445.35 L269.53,446.03 L269.35,446.70 L269.14,447.38 L268.92,448.05 L268.67,448.73 L268.40,449.40 L263.40,449.40Z" fill="#e7a000"/>
<path d="M280.90,418.40 L280.90,418.40 L280.78,419.19 L280.65,419.99 L280.52,420.78 L280.37,421.58 L280.23,422.37 L280.07,423.17 L279.91,423.96 L279.75,424.76 L279.58,425.55 L279.42,426.35 L279.24,427.14 L279.06,427.94 L278.87,428.73 L278.67,429.53 L278.44,430.32 L278.19,431.12 L277.91,431.91 L277.55,432.71 L277.14,433.50 L276.72,434.30 L276.30,435.09 L275.90,435.89 L275.43,436.68 L274.95,437.48 L274.53,438.27 L274.26,439.07 L274.21,439.86 L274.29,440.66 L274.45,441.45 L274.67,442.25 L274.91,443.04 L275.30,443.84 L275.85,444.63 L276.51,445.43 L277.18,446.22 L277.81,447.02 L278.48,447.81 L279.17,448.61 L279.90,449.40 L280.90,449.40Z" fill="#4eaee6"/>
<path d="M280.90,430.20 L280.90,430.20 L281.15,430.69 L281.41,431.18 L281.67,431.68 L281.92,432.17 L282.18,432.66 L282.45,433.15 L282.71,433.65 L282.97,434.14 L283.24,434.63 L283.51,435.12 L283.79,435.62 L284.06,436.11 L284.34,436.60 L284.61,437.09 L284.89,437.58 L285.16,438.08 L285.44,438.57 L285.74,439.06 L286.09,439.55 L286.44,440.05 L286.81,440.54 L287.15,441.03 L287.46,441.52 L287.71,442.02 L287.90,442.51 L287.99,443.00 L287.99,443.49 L287.93,443.98 L287.83,444.48 L287.70,444.97 L287.54,445.46 L287.38,445.95 L287.22,446.45 L287.05,446.94 L286.86,447.43 L286.64,447.92 L286.41,448.42 L286.16,448.91 L285.90,449.40 L280.90,449.40Z" fill="#e7a000"/>
<path d="M298.40,395.90 L298.40,395.90 L298.07,397.27 L297.74,398.64 L297.42,400.02 L297.11,401.39 L296.82,402.76 L296.54,404.13 L296.26,405.50 L295.98,406.87 L295.68,408.25 L295.37,409.62 L295.05,410.99 L294.74,412.36 L294.45,413.73 L294.18,415.11 L293.93,416.48 L293.68,417.85 L293.46,419.22 L293.25,420.59 L293.05,421.96 L292.87,423.34 L292.73,424.71 L292.61,426.08 L292.49,427.45 L292.39,428.82 L292.32,430.19 L292.30,431.57 L292.30,432.94 L292.30,434.31 L292.30,435.68 L292.30,437.05 L292.30,438.43 L292.30,439.80 L292.30,441.17 L292.30,442.54 L292.30,443.91 L292.32,445.28 L292.34,446.66 L292.37,448.03 L292.40,449.40 L298.40,449.40Z" fill="#4eaee6"/>
<path d="M298.40,429.00 L298.40,429.00 L298.61,429.52 L298.83,430.05 L299.04,430.57 L299.25,431.09 L299.46,431.62 L299.67,432.14 L299.88,432.66 L300.08,433.18 L300.29,433.71 L300.49,434.23 L300.70,434.75 L300.92,435.28 L301.14,435.80 L301.36,436.32 L301.57,436.85 L301.78,437.37 L301.98,437.89 L302.16,438.42 L302.32,438.94 L302.47,439.46 L302.59,439.98 L302.72,440.51 L302.84,441.03 L302.97,441.55 L303.08,442.08 L303.20,442.60 L303.30,443.12 L303.40,443.65 L303.49,444.17 L303.56,444.69 L303.62,445.22 L303.67,445.74 L303.69,446.26 L303.70,446.78 L303.70,447.31 L303.69,447.83 L303.67,448.35 L303.64,448.88 L303.60,449.40 L298.40,449.40Z" fill="#e7a000"/>
<path d="M315.90,435.00 L315.90,435.00 L315.75,435.37 L315.60,435.74 L315.43,436.11 L315.26,436.48 L315.08,436.85 L314.89,437.22 L314.70,437.58 L314.50,437.95 L314.29,438.32 L314.08,438.69 L313.86,439.06 L313.63,439.43 L313.37,439.80 L313.10,440.17 L312.81,440.54 L312.52,440.91 L312.23,441.28 L311.94,441.65 L311.66,442.02 L311.40,442.38 L311.15,442.75 L310.93,443.12 L310.69,443.49 L310.45,443.86 L310.20,444.23 L309.96,444.60 L309.72,444.97 L309.51,445.34 L309.32,445.71 L309.17,446.08 L309.07,446.45 L309.01,446.82 L309.00,447.18 L309.00,447.55 L309.01,447.92 L309.03,448.29 L309.07,448.66 L309.12,449.03 L309.20,449.40 L315.90,449.40Z" fill="#4eaee6"/>
<path d="M315.90,443.00 L315.90,443.00 L316.08,443.16 L316.27,443.33 L316.45,443.49 L316.64,443.66 L316.83,443.82 L317.02,443.98 L317.22,444.15 L317.42,444.31 L317.61,444.48 L317.82,444.64 L318.02,444.81 L318.22,444.97 L318.43,445.13 L318.64,445.30 L318.85,445.46 L319.07,445.63 L319.32,445.79 L319.60,445.95 L319.89,446.12 L320.19,446.28 L320.50,446.45 L320.80,446.61 L321.10,446.77 L321.38,446.94 L321.64,447.10 L321.87,447.27 L322.07,447.43 L322.23,447.59 L322.34,447.76 L322.39,447.92 L322.40,448.09 L322.40,448.25 L322.39,448.42 L322.39,448.58 L322.37,448.74 L322.35,448.91 L322.31,449.07 L322.26,449.24 L322.20,449.40 L315.90,449.40Z" fill="#e7a000"/>
<path d="M333.40,405.00 L333.40,405.00 L333.36,405.72 L333.32,406.44 L333.28,407.15 L333.24,407.87 L333.19,408.59 L333.15,409.31 L333.10,410.03 L333.05,410.74 L333.01,411.46 L332.96,412.18 L332.92,412.90 L332.86,413.62 L332.80,414.33 L332.72,415.05 L332.63,415.77 L332.50,416.49 L332.25,417.21 L331.93,417.92 L331.57,418.64 L331.23,419.36 L330.85,420.08 L330.45,420.79 L330.01,421.51 L329.54,422.23 L329.04,422.95 L328.35,423.67 L327.52,424.38 L326.91,425.10 L326.86,425.82 L327.37,426.54 L328.23,427.26 L329.21,427.97 L330.10,428.69 L330.75,429.41 L331.35,430.13 L331.92,430.85 L332.45,431.56 L332.95,432.28 L333.40,433.00 L333.40,433.00Z" fill="#4eaee6"/>
<path d="M333.40,438.00 L333.40,438.00 L333.57,438.29 L333.75,438.58 L333.93,438.88 L334.12,439.17 L334.32,439.46 L334.51,439.75 L334.71,440.05 L334.92,440.34 L335.13,440.63 L335.34,440.92 L335.56,441.22 L335.79,441.51 L336.03,441.80 L336.27,442.09 L336.52,442.38 L336.77,442.68 L337.02,442.97 L337.27,443.26 L337.52,443.55 L337.77,443.85 L338.02,444.14 L338.30,444.43 L338.61,444.72 L338.94,445.02 L339.26,445.31 L339.57,445.60 L339.84,445.89 L340.08,446.18 L340.26,446.48 L340.37,446.77 L340.40,447.06 L340.40,447.35 L340.40,447.65 L340.39,447.94 L340.37,448.23 L340.35,448.52 L340.31,448.82 L340.26,449.11 L340.20,449.40 L333.40,449.40Z" fill="#e7a000"/>
<path d="M350.90,418.40 L350.90,418.40 L350.78,419.19 L350.67,419.99 L350.56,420.78 L350.44,421.58 L350.33,422.37 L350.22,423.17 L350.11,423.96 L350.00,424.76 L349.91,425.55 L349.82,426.35 L349.74,427.14 L349.64,427.94 L349.54,428.73 L349.41,429.53 L349.26,430.32 L349.05,431.12 L348.72,431.91 L348.31,432.71 L347.90,433.50 L347.46,434.30 L346.97,435.09 L346.50,435.89 L346.11,436.68 L345.76,437.48 L345.41,438.27 L345.07,439.07 L344.75,439.86 L344.48,440.66 L344.27,441.45 L344.14,442.25 L344.10,443.04 L344.28,443.84 L344.65,444.63 L345.15,445.43 L345.71,446.22 L346.29,447.02 L347.04,447.81 L347.92,448.61 L348.90,449.40 L350.90,449.40Z" fill="#4eaee6"/>
<path d="M350.90,434.70 L350.90,434.70 L351.08,435.08 L351.26,435.45 L351.43,435.83 L351.61,436.21 L351.79,436.58 L351.97,436.96 L352.15,437.34 L352.33,437.72 L352.51,438.09 L352.69,438.47 L352.86,438.85 L353.04,439.22 L353.21,439.60 L353.39,439.98 L353.56,440.35 L353.74,440.73 L353.91,441.11 L354.09,441.48 L354.27,441.86 L354.46,442.24 L354.65,442.62 L354.85,442.99 L355.07,443.37 L355.33,443.75 L355.61,444.12 L355.90,444.50 L356.19,444.88 L356.49,445.25 L356.77,445.63 L357.03,446.01 L357.27,446.38 L357.47,446.76 L357.64,447.14 L357.75,447.52 L357.80,447.89 L357.79,448.27 L357.76,448.65 L357.70,449.02 L357.60,449.40 L350.90,449.40Z" fill="#e7a000"/>
<path d="M368.40,429.60 L368.40,429.60 L368.31,430.11 L368.21,430.62 L368.11,431.12 L368.00,431.63 L367.89,432.14 L367.77,432.65 L367.66,433.15 L367.54,433.66 L367.41,434.17 L367.28,434.68 L367.15,435.18 L367.02,435.69 L366.89,436.20 L366.76,436.71 L366.62,437.22 L366.47,437.72 L366.32,438.23 L366.17,438.74 L366.00,439.25 L365.82,439.75 L365.62,440.26 L365.41,440.77 L365.17,441.28 L364.88,441.78 L364.56,442.29 L364.22,442.80 L363.87,443.31 L363.52,443.82 L363.16,444.32 L362.72,444.83 L362.26,445.34 L361.84,445.85 L361.53,446.35 L361.40,446.86 L361.40,447.37 L361.41,447.88 L361.44,448.38 L361.50,448.89 L361.60,449.40 L368.40,449.40Z" fill="#4eaee6"/>
<path d="M368.40,440.30 L368.40,440.30 L368.56,440.53 L368.73,440.77 L368.90,441.00 L369.06,441.23 L369.24,441.47 L369.41,441.70 L369.58,441.93 L369.76,442.17 L369.94,442.40 L370.11,442.63 L370.30,442.87 L370.48,443.10 L370.66,443.33 L370.84,443.57 L371.03,443.80 L371.21,444.03 L371.40,444.27 L371.59,444.50 L371.79,444.73 L371.98,444.97 L372.18,445.20 L372.39,445.43 L372.59,445.67 L372.81,445.90 L373.04,446.13 L373.31,446.37 L373.63,446.60 L373.96,446.83 L374.27,447.07 L374.56,447.30 L374.79,447.53 L374.94,447.77 L375.00,448.00 L375.00,448.23 L374.99,448.47 L374.97,448.70 L374.94,448.93 L374.88,449.17 L374.80,449.40 L368.40,449.40Z" fill="#e7a000"/>
<path d="M385.90,416.30 L385.90,416.30 L385.80,417.15 L385.70,418.00 L385.60,418.85 L385.49,419.69 L385.39,420.54 L385.29,421.39 L385.19,422.24 L385.09,423.09 L385.00,423.94 L384.91,424.79 L384.83,425.64 L384.75,426.48 L384.67,427.33 L384.57,428.18 L384.46,429.03 L384.33,429.88 L384.17,430.73 L383.93,431.58 L383.60,432.43 L383.21,433.27 L382.81,434.12 L382.41,434.97 L382.01,435.82 L381.57,436.67 L381.14,437.52 L380.76,438.37 L380.46,439.22 L380.16,440.06 L379.87,440.91 L379.62,441.76 L379.43,442.61 L379.32,443.46 L379.35,444.31 L379.68,445.16 L380.22,446.01 L380.80,446.85 L381.40,447.70 L382.11,448.55 L382.90,449.40 L385.90,449.40Z" fill="#4eaee6"/>
<path d="M385.90,442.50 L385.90,442.50 L386.08,442.68 L386.27,442.85 L386.46,443.03 L386.65,443.21 L386.86,443.38 L387.06,443.56 L387.27,443.74 L387.49,443.92 L387.71,444.09 L387.93,444.27 L388.16,444.45 L388.39,444.62 L388.63,444.80 L388.87,444.98 L389.13,445.15 L389.43,445.33 L389.77,445.51 L390.13,445.68 L390.50,445.86 L390.88,446.04 L391.24,446.22 L391.59,446.39 L391.91,446.57 L392.18,446.75 L392.41,446.92 L392.58,447.10 L392.68,447.28 L392.70,447.45 L392.70,447.63 L392.70,447.81 L392.69,447.98 L392.68,448.16 L392.67,448.34 L392.65,448.52 L392.62,448.69 L392.58,448.87 L392.53,449.05 L392.47,449.22 L392.40,449.40 L385.90,449.40Z" fill="#e7a000"/>
<line x1="51.70" y1="405.90" x2="51.70" y2="424.00" stroke="#333" stroke-width="1.2"/>
<circle cx="51.70" cy="415.40" r="2.05" fill="#000"/>
<line x1="69.20" y1="417.00" x2="69.20" y2="425.00" stroke="#333" stroke-width="1.2"/>
<circle cx="69.20" cy="421.40" r="2.05" fill="#000"/>
<circle cx="73.65" cy="443.30" r="2.05" fill="#000"/>
<line x1="86.70" y1="336.40" x2="86.70" y2="360.00" stroke="#333" stroke-width="1.2"/>
<circle cx="86.70" cy="348.70" r="2.05" fill="#000"/>
<line x1="91.15" y1="422.90" x2="91.15" y2="441.30" stroke="#333" stroke-width="1.2"/>
<circle cx="91.15" cy="432.20" r="2.05" fill="#000"/>
<line x1="104.20" y1="418.80" x2="104.20" y2="429.70" stroke="#333" stroke-width="1.2"/>
<circle cx="104.20" cy="424.60" r="2.05" fill="#000"/>
<circle cx="108.65" cy="441.60" r="2.05" fill="#000"/>
<circle cx="121.70" cy="435.60" r="2.05" fill="#000"/>
<circle cx="126.15" cy="442.40" r="2.05" fill="#000"/>
<line x1="139.20" y1="382.30" x2="139.20" y2="409.90" stroke="#333" stroke-width="1.2"/>
<circle cx="139.20" cy="396.10" r="2.05" fill="#000"/>
<circle cx="143.65" cy="438.20" r="2.05" fill="#000"/>
<line x1="156.70" y1="422.20" x2="156.70" y2="436.80" stroke="#333" stroke-width="1.2"/>
<circle cx="156.70" cy="429.50" r="2.05" fill="#000"/>
<circle cx="161.15" cy="433.90" r="2.05" fill="#000"/>
<circle cx="174.20" cy="443.00" r="2.05" fill="#000"/>
<circle cx="178.65" cy="446.40" r="2.05" fill="#000"/>
<circle cx="191.70" cy="444.90" r="2.05" fill="#000"/>
<circle cx="196.15" cy="443.80" r="2.05" fill="#000"/>
<circle cx="209.20" cy="443.80" r="2.05" fill="#000"/>
<circle cx="213.65" cy="445.60" r="2.05" fill="#000"/>
<line x1="226.70" y1="382.30" x2="226.70" y2="410.60" stroke="#333" stroke-width="1.2"/>
<circle cx="226.70" cy="396.10" r="2.05" fill="#000"/>
<circle cx="231.15" cy="436.00" r="2.05" fill="#000"/>
<line x1="244.20" y1="335.70" x2="244.20" y2="346.80" stroke="#333" stroke-width="1.2"/>
<circle cx="244.20" cy="341.20" r="2.05" fill="#000"/>
<circle cx="248.65" cy="434.90" r="2.05" fill="#000"/>
<circle cx="261.70" cy="438.20" r="2.05" fill="#000"/>
<circle cx="266.15" cy="437.30" r="2.05" fill="#000"/>
<line x1="279.20" y1="422.50" x2="279.20" y2="435.50" stroke="#333" stroke-width="1.2"/>
<circle cx="279.20" cy="429.00" r="2.05" fill="#000"/>
<circle cx="283.65" cy="437.30" r="2.05" fill="#000"/>
<circle cx="296.70" cy="430.80" r="2.05" fill="#000"/>
<circle cx="301.15" cy="438.50" r="2.05" fill="#000"/>
<circle cx="314.20" cy="443.70" r="2.05" fill="#000"/>
<circle cx="318.65" cy="445.50" r="2.05" fill="#000"/>
<line x1="331.70" y1="418.50" x2="331.70" y2="432.00" stroke="#333" stroke-width="1.2"/>
<circle cx="331.70" cy="425.20" r="2.05" fill="#000"/>
<circle cx="336.15" cy="442.00" r="2.05" fill="#000"/>
<circle cx="349.20" cy="437.40" r="2.05" fill="#000"/>
<circle cx="353.65" cy="441.60" r="2.05" fill="#000"/>
<circle cx="366.70" cy="442.90" r="2.05" fill="#000"/>
<circle cx="371.15" cy="443.90" r="2.05" fill="#000"/>
<line x1="384.20" y1="431.60" x2="384.20" y2="440.30" stroke="#333" stroke-width="1.2"/>
<circle cx="384.20" cy="436.20" r="2.05" fill="#000"/>
<circle cx="388.65" cy="445.20" r="2.05" fill="#000"/>
<circle cx="52.80" cy="289.40" r="1.1" fill="#000"/>
<circle cx="55.80" cy="289.40" r="1.1" fill="#000"/>
<circle cx="68.80" cy="289.40" r="1.1" fill="#000"/>
<circle cx="71.80" cy="289.40" r="1.1" fill="#000"/>
<circle cx="74.80" cy="289.40" r="1.1" fill="#000"/>
<circle cx="86.30" cy="289.40" r="1.1" fill="#000"/>
<circle cx="89.30" cy="289.40" r="1.1" fill="#000"/>
<circle cx="92.30" cy="289.40" r="1.1" fill="#000"/>
<circle cx="103.80" cy="289.40" r="1.1" fill="#000"/>
<circle cx="106.80" cy="289.40" r="1.1" fill="#000"/>
<circle cx="109.80" cy="289.40" r="1.1" fill="#000"/>
<line x1="121.50" y1="291.60" x2="126.00" y2="291.60" stroke="#222" stroke-width="1.15"/>
<circle cx="138.80" cy="289.40" r="1.1" fill="#000"/>
<circle cx="141.80" cy="289.40" r="1.1" fill="#000"/>
<circle cx="144.80" cy="289.40" r="1.1" fill="#000"/>
<line x1="156.50" y1="291.60" x2="161.00" y2="291.60" stroke="#222" stroke-width="1.15"/>
<circle cx="175.30" cy="289.40" r="1.1" fill="#000"/>
<circle cx="178.30" cy="289.40" r="1.1" fill="#000"/>
<line x1="191.50" y1="291.60" x2="196.00" y2="291.60" stroke="#222" stroke-width="1.15"/>
<line x1="209.00" y1="291.60" x2="213.50" y2="291.60" stroke="#222" stroke-width="1.15"/>
<circle cx="227.80" cy="289.40" r="1.1" fill="#000"/>
<circle cx="230.80" cy="289.40" r="1.1" fill="#000"/>
<circle cx="243.80" cy="289.40" r="1.1" fill="#000"/>
<circle cx="246.80" cy="289.40" r="1.1" fill="#000"/>
<circle cx="249.80" cy="289.40" r="1.1" fill="#000"/>
<line x1="261.50" y1="291.60" x2="266.00" y2="291.60" stroke="#222" stroke-width="1.15"/>
<circle cx="281.80" cy="289.40" r="1.1" fill="#000"/>
<line x1="296.50" y1="291.60" x2="301.00" y2="291.60" stroke="#222" stroke-width="1.15"/>
<circle cx="315.30" cy="289.40" r="1.1" fill="#000"/>
<circle cx="318.30" cy="289.40" r="1.1" fill="#000"/>
<circle cx="331.30" cy="289.40" r="1.1" fill="#000"/>
<circle cx="334.30" cy="289.40" r="1.1" fill="#000"/>
<circle cx="337.30" cy="289.40" r="1.1" fill="#000"/>
<circle cx="350.30" cy="289.40" r="1.1" fill="#000"/>
<circle cx="353.30" cy="289.40" r="1.1" fill="#000"/>
<line x1="366.50" y1="291.60" x2="371.00" y2="291.60" stroke="#222" stroke-width="1.15"/>
<circle cx="383.80" cy="289.40" r="1.1" fill="#000"/>
<circle cx="386.80" cy="289.40" r="1.1" fill="#000"/>
<circle cx="389.80" cy="289.40" r="1.1" fill="#000"/>
<rect x="47.00" y="431.00" width="11.0" height="24.70" fill="#fff"/>
<text x="47.40" y="428.40" font-size="8.30" text-anchor="start" fill="#000" font-weight="normal" font-style="normal" stroke="#000" stroke-width="0.25">Group</text>
<rect x="47.80" y="432.90" width="9.4" height="9.4" fill="#4eaee6"/>
<circle cx="52.50" cy="437.60" r="1.9" fill="#000"/>
<text x="62.40" y="440.70" font-size="8.30" text-anchor="start" fill="#000" font-weight="normal" font-style="normal" stroke="#000" stroke-width="0.25">Normal</text>
<rect x="47.80" y="444.50" width="9.4" height="9.4" fill="#e7a000"/>
<circle cx="52.50" cy="449.20" r="1.9" fill="#000"/>
<text x="62.40" y="452.30" font-size="8.30" text-anchor="start" fill="#000" font-weight="normal" font-style="normal" stroke="#000" stroke-width="0.25">Tumor</text>
<rect x="43.30" y="284.30" width="353.10" height="173.30" fill="none" stroke="#6a6a6a" stroke-width="1"/>
<line x1="41.10" y1="449.90" x2="43.30" y2="449.90" stroke="#333" stroke-width="0.9"/>
<text x="41.20" y="453.00" font-size="8.60" text-anchor="end" fill="#3a3a3a" font-weight="normal" font-style="normal" stroke="#3a3a3a" stroke-width="0.25">0.0</text>
<line x1="41.10" y1="404.50" x2="43.30" y2="404.50" stroke="#333" stroke-width="0.9"/>
<text x="41.20" y="407.60" font-size="8.60" text-anchor="end" fill="#3a3a3a" font-weight="normal" font-style="normal" stroke="#3a3a3a" stroke-width="0.25">2.5</text>
<line x1="41.10" y1="359.10" x2="43.30" y2="359.10" stroke="#333" stroke-width="0.9"/>
<text x="41.20" y="362.20" font-size="8.60" text-anchor="end" fill="#3a3a3a" font-weight="normal" font-style="normal" stroke="#3a3a3a" stroke-width="0.25">5.0</text>
<line x1="41.10" y1="313.70" x2="43.30" y2="313.70" stroke="#333" stroke-width="0.9"/>
<text x="41.20" y="316.80" font-size="8.60" text-anchor="end" fill="#3a3a3a" font-weight="normal" font-style="normal" stroke="#3a3a3a" stroke-width="0.25">7.5</text>
<line x1="53.40" y1="457.60" x2="53.40" y2="460.10" stroke="#333" stroke-width="0.8"/>
<text x="56.35" y="461.00" font-size="8.35" text-anchor="end" fill="#1a1a1a" font-weight="normal" font-style="normal" transform="rotate(-90 56.35 461.00)" stroke="#1a1a1a" stroke-width="0.25">BLCA(N=19,T=408)</text>
<line x1="70.90" y1="457.60" x2="70.90" y2="460.10" stroke="#333" stroke-width="0.8"/>
<text x="73.85" y="461.00" font-size="8.35" text-anchor="end" fill="#1a1a1a" font-weight="normal" font-style="normal" transform="rotate(-90 73.85 461.00)" stroke="#1a1a1a" stroke-width="0.25">BRCA(N=113,T=1098)</text>
<line x1="88.40" y1="457.60" x2="88.40" y2="460.10" stroke="#333" stroke-width="0.8"/>
<text x="91.35" y="461.00" font-size="8.35" text-anchor="end" fill="#1a1a1a" font-weight="normal" font-style="normal" transform="rotate(-90 91.35 461.00)" stroke="#1a1a1a" stroke-width="0.25">CHOL(N=9,T=36)</text>
<line x1="105.90" y1="457.60" x2="105.90" y2="460.10" stroke="#333" stroke-width="0.8"/>
<text x="108.85" y="461.00" font-size="8.35" text-anchor="end" fill="#ff0000" font-weight="normal" font-style="normal" transform="rotate(-90 108.85 461.00)" stroke="#ff0000" stroke-width="0.25">COAD(N=41,T=458)</text>
<line x1="123.40" y1="457.60" x2="123.40" y2="460.10" stroke="#333" stroke-width="0.8"/>
<text x="126.35" y="461.00" font-size="8.35" text-anchor="end" fill="#1a1a1a" font-weight="normal" font-style="normal" transform="rotate(-90 126.35 461.00)" stroke="#1a1a1a" stroke-width="0.25">ESCA(N=11,T=162)</text>
<line x1="140.90" y1="457.60" x2="140.90" y2="460.10" stroke="#333" stroke-width="0.8"/>
<text x="143.85" y="461.00" font-size="8.35" text-anchor="end" fill="#1a1a1a" font-weight="normal" font-style="normal" transform="rotate(-90 143.85 461.00)" stroke="#1a1a1a" stroke-width="0.25">GBM(N=5,T=167)</text>
<line x1="158.40" y1="457.60" x2="158.40" y2="460.10" stroke="#333" stroke-width="0.8"/>
<text x="161.35" y="461.00" font-size="8.35" text-anchor="end" fill="#1a1a1a" font-weight="normal" font-style="normal" transform="rotate(-90 161.35 461.00)" stroke="#1a1a1a" stroke-width="0.25">HNSC(N=44,T=502)</text>
<line x1="175.90" y1="457.60" x2="175.90" y2="460.10" stroke="#333" stroke-width="0.8"/>
<text x="178.85" y="461.00" font-size="8.35" text-anchor="end" fill="#1a1a1a" font-weight="normal" font-style="normal" transform="rotate(-90 178.85 461.00)" stroke="#1a1a1a" stroke-width="0.25">KICH(N=24,T=65)</text>
<line x1="193.40" y1="457.60" x2="193.40" y2="460.10" stroke="#333" stroke-width="0.8"/>
<text x="196.35" y="461.00" font-size="8.35" text-anchor="end" fill="#1a1a1a" font-weight="normal" font-style="normal" transform="rotate(-90 196.35 461.00)" stroke="#1a1a1a" stroke-width="0.25">KIRC(N=72,T=531)</text>
<line x1="210.90" y1="457.60" x2="210.90" y2="460.10" stroke="#333" stroke-width="0.8"/>
<text x="213.85" y="461.00" font-size="8.35" text-anchor="end" fill="#1a1a1a" font-weight="normal" font-style="normal" transform="rotate(-90 213.85 461.00)" stroke="#1a1a1a" stroke-width="0.25">KIRP(N=32,T=289)</text>
<line x1="228.40" y1="457.60" x2="228.40" y2="460.10" stroke="#333" stroke-width="0.8"/>
<text x="231.35" y="461.00" font-size="8.35" text-anchor="end" fill="#1a1a1a" font-weight="normal" font-style="normal" transform="rotate(-90 231.35 461.00)" stroke="#1a1a1a" stroke-width="0.25">LGG(N=5,T=525)</text>
<line x1="245.90" y1="457.60" x2="245.90" y2="460.10" stroke="#333" stroke-width="0.8"/>
<text x="248.85" y="461.00" font-size="8.35" text-anchor="end" fill="#1a1a1a" font-weight="normal" font-style="normal" transform="rotate(-90 248.85 461.00)" stroke="#1a1a1a" stroke-width="0.25">LIHC(N=50,T=373)</text>
<line x1="263.40" y1="457.60" x2="263.40" y2="460.10" stroke="#333" stroke-width="0.8"/>
<text x="266.35" y="461.00" font-size="8.35" text-anchor="end" fill="#1a1a1a" font-weight="normal" font-style="normal" transform="rotate(-90 266.35 461.00)" stroke="#1a1a1a" stroke-width="0.25">LUAD(N=59,T=515)</text>
<line x1="280.90" y1="457.60" x2="280.90" y2="460.10" stroke="#333" stroke-width="0.8"/>
<text x="283.85" y="461.00" font-size="8.35" text-anchor="end" fill="#1a1a1a" font-weight="normal" font-style="normal" transform="rotate(-90 283.85 461.00)" stroke="#1a1a1a" stroke-width="0.25">LUSC(N=49,T=501)</text>
<line x1="298.40" y1="457.60" x2="298.40" y2="460.10" stroke="#333" stroke-width="0.8"/>
<text x="301.35" y="461.00" font-size="8.35" text-anchor="end" fill="#1a1a1a" font-weight="normal" font-style="normal" transform="rotate(-90 301.35 461.00)" stroke="#1a1a1a" stroke-width="0.25">PAAD(N=4,T=178)</text>
<line x1="315.90" y1="457.60" x2="315.90" y2="460.10" stroke="#333" stroke-width="0.8"/>
<text x="318.85" y="461.00" font-size="8.35" text-anchor="end" fill="#1a1a1a" font-weight="normal" font-style="normal" transform="rotate(-90 318.85 461.00)" stroke="#1a1a1a" stroke-width="0.25">PRAD(N=52,T=496)</text>
<line x1="333.40" y1="457.60" x2="333.40" y2="460.10" stroke="#333" stroke-width="0.8"/>
<text x="336.35" y="461.00" font-size="8.35" text-anchor="end" fill="#1a1a1a" font-weight="normal" font-style="normal" transform="rotate(-90 336.35 461.00)" stroke="#1a1a1a" stroke-width="0.25">READ(N=10,T=167)</text>
<line x1="350.90" y1="457.60" x2="350.90" y2="460.10" stroke="#333" stroke-width="0.8"/>
<text x="353.85" y="461.00" font-size="8.35" text-anchor="end" fill="#1a1a1a" font-weight="normal" font-style="normal" transform="rotate(-90 353.85 461.00)" stroke="#1a1a1a" stroke-width="0.25">STAD(N=32,T=375)</text>
<line x1="368.40" y1="457.60" x2="368.40" y2="460.10" stroke="#333" stroke-width="0.8"/>
<text x="371.35" y="461.00" font-size="8.35" text-anchor="end" fill="#1a1a1a" font-weight="normal" font-style="normal" transform="rotate(-90 371.35 461.00)" stroke="#1a1a1a" stroke-width="0.25">THCA(N=58,T=510)</text>
<line x1="385.90" y1="457.60" x2="385.90" y2="460.10" stroke="#333" stroke-width="0.8"/>
<text x="388.85" y="461.00" font-size="8.35" text-anchor="end" fill="#1a1a1a" font-weight="normal" font-style="normal" transform="rotate(-90 388.85 461.00)" stroke="#1a1a1a" stroke-width="0.25">UCEC(N=35,T=544)</text>
<text x="28.30" y="369.80" font-size="8.90" text-anchor="middle" fill="#000" font-weight="normal" font-style="normal" transform="rotate(-90 28.30 369.80)" stroke="#000" stroke-width="0.25">log2(TPM+1)</text>
<text x="7.20" y="279.90" font-size="11.00" text-anchor="start" fill="#000" font-weight="normal" font-style="normal" stroke="#000" stroke-width="0.25">B</text>
<text x="401.20" y="13.60" font-size="11.00" text-anchor="start" fill="#000" font-weight="normal" font-style="normal" stroke="#000" stroke-width="0.12">C</text>
<text x="433.60" y="29.70" font-size="11.60" text-anchor="start" fill="#000" font-weight="bold" font-style="normal">GSE110225</text>
<line x1="436.00" y1="49.60" x2="436.00" y2="179.80" stroke="#000" stroke-width="1.7"/>
<line x1="435.20" y1="179.00" x2="517.00" y2="179.00" stroke="#000" stroke-width="1.7"/>
<line x1="430.80" y1="50.20" x2="436.00" y2="50.20" stroke="#000" stroke-width="1.2"/>
<text x="429.20" y="53.30" font-size="8.80" text-anchor="end" fill="#000" font-weight="normal" font-style="normal" stroke="#000" stroke-width="0.12">6</text>
<line x1="430.80" y1="93.10" x2="436.00" y2="93.10" stroke="#000" stroke-width="1.2"/>
<text x="429.20" y="96.20" font-size="8.80" text-anchor="end" fill="#000" font-weight="normal" font-style="normal" stroke="#000" stroke-width="0.12">4</text>
<line x1="430.80" y1="136.00" x2="436.00" y2="136.00" stroke="#000" stroke-width="1.2"/>
<text x="429.20" y="139.10" font-size="8.80" text-anchor="end" fill="#000" font-weight="normal" font-style="normal" stroke="#000" stroke-width="0.12">2</text>
<line x1="430.80" y1="179.00" x2="436.00" y2="179.00" stroke="#000" stroke-width="1.2"/>
<text x="429.20" y="182.10" font-size="8.80" text-anchor="end" fill="#000" font-weight="normal" font-style="normal" stroke="#000" stroke-width="0.12">0</text>
<line x1="459.35" y1="78.30" x2="459.35" y2="72.50" stroke="#000" stroke-width="1.2"/>
<line x1="453.45" y1="72.50" x2="465.25" y2="72.50" stroke="#000" stroke-width="1.2"/>
<rect x="448.35" y="78.95" width="22.00" height="100.05" fill="#000" stroke="#000" stroke-width="1.3"/>
<line x1="493.80" y1="86.70" x2="493.80" y2="80.70" stroke="#000" stroke-width="1.2"/>
<line x1="488.00" y1="80.70" x2="499.60" y2="80.70" stroke="#000" stroke-width="1.2"/>
<rect x="483.05" y="87.35" width="21.50" height="91.65" fill="#a0a0a2" stroke="#000" stroke-width="1.3"/>
<path d="M457.20,72.70 L457.20,66.10 L495.50,66.10 L495.50,71.80" fill="none" stroke="#000" stroke-width="1.2"/>
<text x="457.60" y="52.70" font-size="8.30" text-anchor="start" fill="#000" font-weight="normal" font-style="normal" stroke="#000" stroke-width="0.12">t = 3.585</text>
<text x="458.00" y="62.40" font-size="8.3" fill="#000" stroke="#000" stroke-width="0.12"><tspan font-style="italic">P</tspan> = 0.0025</text>
<text x="411.00" y="109.40" font-size="8.20" text-anchor="middle" fill="#000" font-weight="normal" font-style="normal" transform="rotate(-90 411.00 109.40)" xml:space="preserve" stroke="#000" stroke-width="0.12">Relative LSECti expression  level</text>
<text x="422.00" y="112.00" font-size="8.20" text-anchor="middle" fill="#000" font-weight="normal" font-style="normal" transform="rotate(-90 422.00 112.00)" stroke="#000" stroke-width="0.12">(to GAPDH)</text>
<text x="458.30" y="193.50" font-size="8.20" text-anchor="middle" fill="#000" font-weight="normal" font-style="normal" stroke="#000" stroke-width="0.12">Normal</text>
<text x="492.80" y="193.50" font-size="8.20" text-anchor="middle" fill="#000" font-weight="normal" font-style="normal" stroke="#000" stroke-width="0.12">Cancer</text>
<text x="401.40" y="279.70" font-size="11.00" text-anchor="start" fill="#000" font-weight="normal" font-style="normal" stroke="#000" stroke-width="0.12">D</text>
<text x="418.80" y="323.20" font-size="12.10" text-anchor="start" fill="#000" font-weight="bold" font-style="normal">clinical samples</text>
<line x1="440.00" y1="338.00" x2="440.00" y2="456.70" stroke="#000" stroke-width="1.7"/>
<line x1="439.20" y1="455.90" x2="518.80" y2="455.90" stroke="#000" stroke-width="1.7"/>
<line x1="434.80" y1="338.60" x2="440.00" y2="338.60" stroke="#000" stroke-width="1.2"/>
<text x="433.20" y="341.70" font-size="8.80" text-anchor="end" fill="#000" font-weight="normal" font-style="normal" stroke="#000" stroke-width="0.12">1.5</text>
<line x1="434.80" y1="377.50" x2="440.00" y2="377.50" stroke="#000" stroke-width="1.2"/>
<text x="433.20" y="380.60" font-size="8.80" text-anchor="end" fill="#000" font-weight="normal" font-style="normal" stroke="#000" stroke-width="0.12">1.0</text>
<line x1="434.80" y1="416.60" x2="440.00" y2="416.60" stroke="#000" stroke-width="1.2"/>
<text x="433.20" y="419.70" font-size="8.80" text-anchor="end" fill="#000" font-weight="normal" font-style="normal" stroke="#000" stroke-width="0.12">0.5</text>
<line x1="434.80" y1="455.90" x2="440.00" y2="455.90" stroke="#000" stroke-width="1.2"/>
<text x="433.20" y="459.00" font-size="8.80" text-anchor="end" fill="#000" font-weight="normal" font-style="normal" stroke="#000" stroke-width="0.12">0.0</text>
<line x1="462.30" y1="377.60" x2="462.30" y2="373.80" stroke="#000" stroke-width="1.2"/>
<line x1="456.90" y1="373.80" x2="467.70" y2="373.80" stroke="#000" stroke-width="1.2"/>
<rect x="451.55" y="378.25" width="21.50" height="77.65" fill="#000" stroke="#000" stroke-width="1.3"/>
<line x1="495.95" y1="432.20" x2="495.95" y2="421.20" stroke="#000" stroke-width="1.2"/>
<line x1="491.05" y1="421.20" x2="500.85" y2="421.20" stroke="#000" stroke-width="1.2"/>
<rect x="485.25" y="432.85" width="21.40" height="23.05" fill="#a0a0a2" stroke="#000" stroke-width="1.3"/>
<path d="M460.00,371.50 L460.00,366.80 L497.70,366.80 L497.70,372.00" fill="none" stroke="#000" stroke-width="1.2"/>
<text x="460.00" y="353.00" font-size="8.30" text-anchor="start" fill="#000" font-weight="normal" font-style="normal" stroke="#000" stroke-width="0.12">t = 13.30</text>
<text x="460.00" y="363.30" font-size="8.3" fill="#000" stroke="#000" stroke-width="0.12"><tspan font-style="italic">P</tspan> &lt; 0.0001</text>
<text x="408.60" y="399.20" font-size="8.20" text-anchor="middle" fill="#000" font-weight="normal" font-style="normal" transform="rotate(-90 408.60 399.20)" xml:space="preserve" stroke="#000" stroke-width="0.12">Relative LSECtin expression  level</text>
<text x="419.00" y="397.30" font-size="8.20" text-anchor="middle" fill="#000" font-weight="normal" font-style="normal" transform="rotate(-90 419.00 397.30)" stroke="#000" stroke-width="0.12">(to GAPDH)</text>
<text x="461.30" y="470.30" font-size="8.20" text-anchor="middle" fill="#000" font-weight="normal" font-style="normal" stroke="#000" stroke-width="0.12">Normal</text>
<text x="494.80" y="470.30" font-size="8.20" text-anchor="middle" fill="#000" font-weight="normal" font-style="normal" stroke="#000" stroke-width="0.12">Cancer</text>
</svg>
</body></html>
